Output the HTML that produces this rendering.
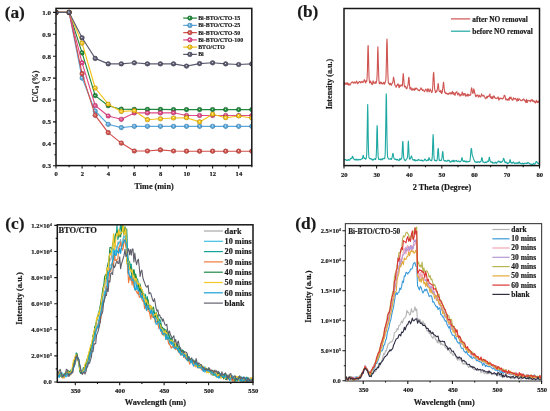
<!DOCTYPE html>
<html><head><meta charset="utf-8"><title>figure</title>
<style>
html,body{margin:0;padding:0;background:#ffffff;width:550px;height:411px;overflow:hidden}
svg{display:block;filter:blur(0.3px)}
text{font-family:"Liberation Serif",serif;font-weight:bold;fill:#1a1a1a;stroke:#1a1a1a;stroke-width:0.18px}
</style></head><body>
<svg width="550" height="411" viewBox="0 0 550 411">
<rect width="550" height="411" fill="#ffffff"/>
<defs>
<radialGradient id="g0" cx="0.5" cy="0.5" r="0.5" fx="0.42" fy="0.4"><stop offset="0" stop-color="#ffffff"/><stop offset="0.4" stop-color="#1f8a3c"/><stop offset="0.8" stop-color="#1f8a3c"/><stop offset="1" stop-color="#0f5a24"/></radialGradient>
<radialGradient id="g1" cx="0.5" cy="0.5" r="0.5" fx="0.42" fy="0.4"><stop offset="0" stop-color="#ffffff"/><stop offset="0.4" stop-color="#5aa7dc"/><stop offset="0.8" stop-color="#5aa7dc"/><stop offset="1" stop-color="#2f6f9c"/></radialGradient>
<radialGradient id="g2" cx="0.5" cy="0.5" r="0.5" fx="0.42" fy="0.4"><stop offset="0" stop-color="#ffffff"/><stop offset="0.4" stop-color="#d2504a"/><stop offset="0.8" stop-color="#d2504a"/><stop offset="1" stop-color="#8e2a26"/></radialGradient>
<radialGradient id="g3" cx="0.5" cy="0.5" r="0.5" fx="0.42" fy="0.4"><stop offset="0" stop-color="#ffffff"/><stop offset="0.4" stop-color="#e04a86"/><stop offset="0.8" stop-color="#e04a86"/><stop offset="1" stop-color="#9a2456"/></radialGradient>
<radialGradient id="g4" cx="0.5" cy="0.5" r="0.5" fx="0.42" fy="0.4"><stop offset="0" stop-color="#ffffff"/><stop offset="0.4" stop-color="#f4c21a"/><stop offset="0.8" stop-color="#f4c21a"/><stop offset="1" stop-color="#a07d00"/></radialGradient>
<radialGradient id="g5" cx="0.5" cy="0.5" r="0.5" fx="0.42" fy="0.4"><stop offset="0" stop-color="#ffffff"/><stop offset="0.4" stop-color="#5c5c70"/><stop offset="0.8" stop-color="#5c5c70"/><stop offset="1" stop-color="#2a2a3c"/></radialGradient>
<clipPath id="clipA"><rect x="56" y="8.4" width="195.8" height="157.2"/></clipPath>
</defs>
<g clip-path="url(#clipA)">
<path d="M56 12.4L69.1 12.4L82.1 52.9L95.2 95.6L108.2 105.7L121.3 109.2L134.3 109.4L147.4 109.4L160.4 109.4L173.5 109.6L186.5 109.6L199.6 109.6L212.6 109.6L225.7 109.6L238.7 109.6L251.8 109.6" stroke="#1f8a3c" stroke-width="1.15" fill="none" stroke-linejoin="round"/>
<circle cx="56" cy="12.4" r="2.35" fill="url(#g0)" stroke="#0f5a24" stroke-width="0.3"/>
<circle cx="69.1" cy="12.4" r="2.35" fill="url(#g0)" stroke="#0f5a24" stroke-width="0.3"/>
<circle cx="82.1" cy="52.9" r="2.35" fill="url(#g0)" stroke="#0f5a24" stroke-width="0.3"/>
<circle cx="95.2" cy="95.6" r="2.35" fill="url(#g0)" stroke="#0f5a24" stroke-width="0.3"/>
<circle cx="108.2" cy="105.7" r="2.35" fill="url(#g0)" stroke="#0f5a24" stroke-width="0.3"/>
<circle cx="121.3" cy="109.2" r="2.35" fill="url(#g0)" stroke="#0f5a24" stroke-width="0.3"/>
<circle cx="134.3" cy="109.4" r="2.35" fill="url(#g0)" stroke="#0f5a24" stroke-width="0.3"/>
<circle cx="147.4" cy="109.4" r="2.35" fill="url(#g0)" stroke="#0f5a24" stroke-width="0.3"/>
<circle cx="160.4" cy="109.4" r="2.35" fill="url(#g0)" stroke="#0f5a24" stroke-width="0.3"/>
<circle cx="173.5" cy="109.6" r="2.35" fill="url(#g0)" stroke="#0f5a24" stroke-width="0.3"/>
<circle cx="186.5" cy="109.6" r="2.35" fill="url(#g0)" stroke="#0f5a24" stroke-width="0.3"/>
<circle cx="199.6" cy="109.6" r="2.35" fill="url(#g0)" stroke="#0f5a24" stroke-width="0.3"/>
<circle cx="212.6" cy="109.6" r="2.35" fill="url(#g0)" stroke="#0f5a24" stroke-width="0.3"/>
<circle cx="225.7" cy="109.6" r="2.35" fill="url(#g0)" stroke="#0f5a24" stroke-width="0.3"/>
<circle cx="238.7" cy="109.6" r="2.35" fill="url(#g0)" stroke="#0f5a24" stroke-width="0.3"/>
<circle cx="251.8" cy="109.6" r="2.35" fill="url(#g0)" stroke="#0f5a24" stroke-width="0.3"/>
<path d="M56 12.4L69.1 12.4L82.1 78.1L95.2 111L108.2 124.3L121.3 127.6L134.3 126.3L147.4 126.3L160.4 126.3L173.5 126.3L186.5 126.3L199.6 126.3L212.6 126.3L225.7 126.3L238.7 126.3L251.8 126.3" stroke="#5aa7dc" stroke-width="1.15" fill="none" stroke-linejoin="round"/>
<circle cx="56" cy="12.4" r="2.35" fill="url(#g1)" stroke="#2f6f9c" stroke-width="0.3"/>
<circle cx="69.1" cy="12.4" r="2.35" fill="url(#g1)" stroke="#2f6f9c" stroke-width="0.3"/>
<circle cx="82.1" cy="78.1" r="2.35" fill="url(#g1)" stroke="#2f6f9c" stroke-width="0.3"/>
<circle cx="95.2" cy="111" r="2.35" fill="url(#g1)" stroke="#2f6f9c" stroke-width="0.3"/>
<circle cx="108.2" cy="124.3" r="2.35" fill="url(#g1)" stroke="#2f6f9c" stroke-width="0.3"/>
<circle cx="121.3" cy="127.6" r="2.35" fill="url(#g1)" stroke="#2f6f9c" stroke-width="0.3"/>
<circle cx="134.3" cy="126.3" r="2.35" fill="url(#g1)" stroke="#2f6f9c" stroke-width="0.3"/>
<circle cx="147.4" cy="126.3" r="2.35" fill="url(#g1)" stroke="#2f6f9c" stroke-width="0.3"/>
<circle cx="160.4" cy="126.3" r="2.35" fill="url(#g1)" stroke="#2f6f9c" stroke-width="0.3"/>
<circle cx="173.5" cy="126.3" r="2.35" fill="url(#g1)" stroke="#2f6f9c" stroke-width="0.3"/>
<circle cx="186.5" cy="126.3" r="2.35" fill="url(#g1)" stroke="#2f6f9c" stroke-width="0.3"/>
<circle cx="199.6" cy="126.3" r="2.35" fill="url(#g1)" stroke="#2f6f9c" stroke-width="0.3"/>
<circle cx="212.6" cy="126.3" r="2.35" fill="url(#g1)" stroke="#2f6f9c" stroke-width="0.3"/>
<circle cx="225.7" cy="126.3" r="2.35" fill="url(#g1)" stroke="#2f6f9c" stroke-width="0.3"/>
<circle cx="238.7" cy="126.3" r="2.35" fill="url(#g1)" stroke="#2f6f9c" stroke-width="0.3"/>
<circle cx="251.8" cy="126.3" r="2.35" fill="url(#g1)" stroke="#2f6f9c" stroke-width="0.3"/>
<path d="M56 12.4L69.1 12.4L82.1 73.7L95.2 115.3L108.2 132.6L121.3 143.1L134.3 151L147.4 151L160.4 149.9L173.5 151L186.5 151.2L199.6 151.2L212.6 151.2L225.7 151.2L238.7 151.2L251.8 151.2" stroke="#d2504a" stroke-width="1.15" fill="none" stroke-linejoin="round"/>
<circle cx="56" cy="12.4" r="2.35" fill="url(#g2)" stroke="#8e2a26" stroke-width="0.3"/>
<circle cx="69.1" cy="12.4" r="2.35" fill="url(#g2)" stroke="#8e2a26" stroke-width="0.3"/>
<circle cx="82.1" cy="73.7" r="2.35" fill="url(#g2)" stroke="#8e2a26" stroke-width="0.3"/>
<circle cx="95.2" cy="115.3" r="2.35" fill="url(#g2)" stroke="#8e2a26" stroke-width="0.3"/>
<circle cx="108.2" cy="132.6" r="2.35" fill="url(#g2)" stroke="#8e2a26" stroke-width="0.3"/>
<circle cx="121.3" cy="143.1" r="2.35" fill="url(#g2)" stroke="#8e2a26" stroke-width="0.3"/>
<circle cx="134.3" cy="151" r="2.35" fill="url(#g2)" stroke="#8e2a26" stroke-width="0.3"/>
<circle cx="147.4" cy="151" r="2.35" fill="url(#g2)" stroke="#8e2a26" stroke-width="0.3"/>
<circle cx="160.4" cy="149.9" r="2.35" fill="url(#g2)" stroke="#8e2a26" stroke-width="0.3"/>
<circle cx="173.5" cy="151" r="2.35" fill="url(#g2)" stroke="#8e2a26" stroke-width="0.3"/>
<circle cx="186.5" cy="151.2" r="2.35" fill="url(#g2)" stroke="#8e2a26" stroke-width="0.3"/>
<circle cx="199.6" cy="151.2" r="2.35" fill="url(#g2)" stroke="#8e2a26" stroke-width="0.3"/>
<circle cx="212.6" cy="151.2" r="2.35" fill="url(#g2)" stroke="#8e2a26" stroke-width="0.3"/>
<circle cx="225.7" cy="151.2" r="2.35" fill="url(#g2)" stroke="#8e2a26" stroke-width="0.3"/>
<circle cx="238.7" cy="151.2" r="2.35" fill="url(#g2)" stroke="#8e2a26" stroke-width="0.3"/>
<circle cx="251.8" cy="151.2" r="2.35" fill="url(#g2)" stroke="#8e2a26" stroke-width="0.3"/>
<path d="M56 12.4L69.1 12.4L82.1 62.8L95.2 105.5L108.2 116L121.3 119.3L134.3 112.9L147.4 112.9L160.4 112.9L173.5 112.7L186.5 115.5L199.6 115.5L212.6 115.5L225.7 115.5L238.7 115.5L251.8 115.5" stroke="#e04a86" stroke-width="1.15" fill="none" stroke-linejoin="round"/>
<circle cx="56" cy="12.4" r="2.35" fill="url(#g3)" stroke="#9a2456" stroke-width="0.3"/>
<circle cx="69.1" cy="12.4" r="2.35" fill="url(#g3)" stroke="#9a2456" stroke-width="0.3"/>
<circle cx="82.1" cy="62.8" r="2.35" fill="url(#g3)" stroke="#9a2456" stroke-width="0.3"/>
<circle cx="95.2" cy="105.5" r="2.35" fill="url(#g3)" stroke="#9a2456" stroke-width="0.3"/>
<circle cx="108.2" cy="116" r="2.35" fill="url(#g3)" stroke="#9a2456" stroke-width="0.3"/>
<circle cx="121.3" cy="119.3" r="2.35" fill="url(#g3)" stroke="#9a2456" stroke-width="0.3"/>
<circle cx="134.3" cy="112.9" r="2.35" fill="url(#g3)" stroke="#9a2456" stroke-width="0.3"/>
<circle cx="147.4" cy="112.9" r="2.35" fill="url(#g3)" stroke="#9a2456" stroke-width="0.3"/>
<circle cx="160.4" cy="112.9" r="2.35" fill="url(#g3)" stroke="#9a2456" stroke-width="0.3"/>
<circle cx="173.5" cy="112.7" r="2.35" fill="url(#g3)" stroke="#9a2456" stroke-width="0.3"/>
<circle cx="186.5" cy="115.5" r="2.35" fill="url(#g3)" stroke="#9a2456" stroke-width="0.3"/>
<circle cx="199.6" cy="115.5" r="2.35" fill="url(#g3)" stroke="#9a2456" stroke-width="0.3"/>
<circle cx="212.6" cy="115.5" r="2.35" fill="url(#g3)" stroke="#9a2456" stroke-width="0.3"/>
<circle cx="225.7" cy="115.5" r="2.35" fill="url(#g3)" stroke="#9a2456" stroke-width="0.3"/>
<circle cx="238.7" cy="115.5" r="2.35" fill="url(#g3)" stroke="#9a2456" stroke-width="0.3"/>
<circle cx="251.8" cy="115.5" r="2.35" fill="url(#g3)" stroke="#9a2456" stroke-width="0.3"/>
<path d="M56 12.4L69.1 12.4L82.1 43.1L95.2 88L108.2 104.2L121.3 111.4L134.3 110.7L147.4 119.7L160.4 118.8L173.5 118L186.5 117.7L199.6 121.9L212.6 114.2L225.7 117.7L238.7 116L251.8 118" stroke="#f4c21a" stroke-width="1.15" fill="none" stroke-linejoin="round"/>
<circle cx="56" cy="12.4" r="2.35" fill="url(#g4)" stroke="#a07d00" stroke-width="0.3"/>
<circle cx="69.1" cy="12.4" r="2.35" fill="url(#g4)" stroke="#a07d00" stroke-width="0.3"/>
<circle cx="82.1" cy="43.1" r="2.35" fill="url(#g4)" stroke="#a07d00" stroke-width="0.3"/>
<circle cx="95.2" cy="88" r="2.35" fill="url(#g4)" stroke="#a07d00" stroke-width="0.3"/>
<circle cx="108.2" cy="104.2" r="2.35" fill="url(#g4)" stroke="#a07d00" stroke-width="0.3"/>
<circle cx="121.3" cy="111.4" r="2.35" fill="url(#g4)" stroke="#a07d00" stroke-width="0.3"/>
<circle cx="134.3" cy="110.7" r="2.35" fill="url(#g4)" stroke="#a07d00" stroke-width="0.3"/>
<circle cx="147.4" cy="119.7" r="2.35" fill="url(#g4)" stroke="#a07d00" stroke-width="0.3"/>
<circle cx="160.4" cy="118.8" r="2.35" fill="url(#g4)" stroke="#a07d00" stroke-width="0.3"/>
<circle cx="173.5" cy="118" r="2.35" fill="url(#g4)" stroke="#a07d00" stroke-width="0.3"/>
<circle cx="186.5" cy="117.7" r="2.35" fill="url(#g4)" stroke="#a07d00" stroke-width="0.3"/>
<circle cx="199.6" cy="121.9" r="2.35" fill="url(#g4)" stroke="#a07d00" stroke-width="0.3"/>
<circle cx="212.6" cy="114.2" r="2.35" fill="url(#g4)" stroke="#a07d00" stroke-width="0.3"/>
<circle cx="225.7" cy="117.7" r="2.35" fill="url(#g4)" stroke="#a07d00" stroke-width="0.3"/>
<circle cx="238.7" cy="116" r="2.35" fill="url(#g4)" stroke="#a07d00" stroke-width="0.3"/>
<circle cx="251.8" cy="118" r="2.35" fill="url(#g4)" stroke="#a07d00" stroke-width="0.3"/>
<path d="M56 12.4L69.1 12.4L82.1 37.8L95.2 58.4L108.2 63.9L121.3 63.9L134.3 62.8L147.4 63.9L160.4 63.9L173.5 63.9L186.5 66.1L199.6 63.6L212.6 62.8L225.7 63.9L238.7 64.5L251.8 63.9" stroke="#5c5c70" stroke-width="1.15" fill="none" stroke-linejoin="round"/>
<circle cx="56" cy="12.4" r="2.35" fill="url(#g5)" stroke="#2a2a3c" stroke-width="0.3"/>
<circle cx="69.1" cy="12.4" r="2.35" fill="url(#g5)" stroke="#2a2a3c" stroke-width="0.3"/>
<circle cx="82.1" cy="37.8" r="2.35" fill="url(#g5)" stroke="#2a2a3c" stroke-width="0.3"/>
<circle cx="95.2" cy="58.4" r="2.35" fill="url(#g5)" stroke="#2a2a3c" stroke-width="0.3"/>
<circle cx="108.2" cy="63.9" r="2.35" fill="url(#g5)" stroke="#2a2a3c" stroke-width="0.3"/>
<circle cx="121.3" cy="63.9" r="2.35" fill="url(#g5)" stroke="#2a2a3c" stroke-width="0.3"/>
<circle cx="134.3" cy="62.8" r="2.35" fill="url(#g5)" stroke="#2a2a3c" stroke-width="0.3"/>
<circle cx="147.4" cy="63.9" r="2.35" fill="url(#g5)" stroke="#2a2a3c" stroke-width="0.3"/>
<circle cx="160.4" cy="63.9" r="2.35" fill="url(#g5)" stroke="#2a2a3c" stroke-width="0.3"/>
<circle cx="173.5" cy="63.9" r="2.35" fill="url(#g5)" stroke="#2a2a3c" stroke-width="0.3"/>
<circle cx="186.5" cy="66.1" r="2.35" fill="url(#g5)" stroke="#2a2a3c" stroke-width="0.3"/>
<circle cx="199.6" cy="63.6" r="2.35" fill="url(#g5)" stroke="#2a2a3c" stroke-width="0.3"/>
<circle cx="212.6" cy="62.8" r="2.35" fill="url(#g5)" stroke="#2a2a3c" stroke-width="0.3"/>
<circle cx="225.7" cy="63.9" r="2.35" fill="url(#g5)" stroke="#2a2a3c" stroke-width="0.3"/>
<circle cx="238.7" cy="64.5" r="2.35" fill="url(#g5)" stroke="#2a2a3c" stroke-width="0.3"/>
<circle cx="251.8" cy="63.9" r="2.35" fill="url(#g5)" stroke="#2a2a3c" stroke-width="0.3"/>
</g>
<rect x="56" y="8.4" width="195.8" height="157.2" fill="none" stroke="#161616" stroke-width="1.5"/>
<text x="50.9" y="168.1" font-size="7.0" text-anchor="end" >0.3</text>
<text x="50.9" y="146.2" font-size="7.0" text-anchor="end" >0.4</text>
<text x="50.9" y="124.3" font-size="7.0" text-anchor="end" >0.5</text>
<text x="50.9" y="102.4" font-size="7.0" text-anchor="end" >0.6</text>
<text x="50.9" y="80.5" font-size="7.0" text-anchor="end" >0.7</text>
<text x="50.9" y="58.6" font-size="7.0" text-anchor="end" >0.8</text>
<text x="50.9" y="36.7" font-size="7.0" text-anchor="end" >0.9</text>
<text x="50.9" y="14.8" font-size="7.0" text-anchor="end" >1.0</text>
<text x="56.2" y="176" font-size="6.6" text-anchor="middle" >0</text>
<text x="82.3" y="176" font-size="6.6" text-anchor="middle" >2</text>
<text x="108.4" y="176" font-size="6.6" text-anchor="middle" >4</text>
<text x="134.5" y="176" font-size="6.6" text-anchor="middle" >6</text>
<text x="160.6" y="176" font-size="6.6" text-anchor="middle" >8</text>
<text x="186.7" y="176" font-size="6.6" text-anchor="middle" >10</text>
<text x="212.8" y="176" font-size="6.6" text-anchor="middle" >12</text>
<text x="238.9" y="176" font-size="6.6" text-anchor="middle" >14</text>
<path d="M53 165.7H56M53 143.8H56M53 121.9H56M53 100H56M53 78.1H56M53 56.2H56M53 34.3H56M53 12.4H56M54.4 154.8H56M54.4 132.8H56M54.4 111H56M54.4 89H56M54.4 67.2H56M54.4 45.2H56M54.4 23.3H56M56 165.6V168.6M69.1 165.6V167.2M82.1 165.6V168.6M95.2 165.6V167.2M108.2 165.6V168.6M121.3 165.6V167.2M134.3 165.6V168.6M147.4 165.6V167.2M160.4 165.6V168.6M173.5 165.6V167.2M186.5 165.6V168.6M199.6 165.6V167.2M212.6 165.6V168.6M225.7 165.6V167.2M238.7 165.6V168.6M251.8 165.6V167.2" stroke="#161616" stroke-width="1.1" fill="none"/>
<text x="154.1" y="188.7" font-size="8.2" text-anchor="middle" >Time (min)</text>
<text transform="translate(37.6 86.5) rotate(-90)" font-size="8.0" text-anchor="middle" font-family="Liberation Serif, serif" font-weight="bold">C/C<tspan font-size="5.2" dy="1.6">0</tspan><tspan dy="-1.6"> (%)</tspan></text>
<path d="M183.2 18.1H196.9" stroke="#1f8a3c" stroke-width="1.25"/>
<circle cx="189.9" cy="18.1" r="2.35" fill="url(#g0)" stroke="#0f5a24" stroke-width="0.3"/>
<text x="198.2" y="20.1" font-size="5.9" text-anchor="start" >Bi-BTO/CTO-15</text>
<path d="M183.2 25.4H196.9" stroke="#5aa7dc" stroke-width="1.25"/>
<circle cx="189.9" cy="25.4" r="2.35" fill="url(#g1)" stroke="#2f6f9c" stroke-width="0.3"/>
<text x="198.2" y="27.4" font-size="5.9" text-anchor="start" >Bi-BTO/CTO-25</text>
<path d="M183.2 32.6H196.9" stroke="#d2504a" stroke-width="1.25"/>
<circle cx="189.9" cy="32.6" r="2.35" fill="url(#g2)" stroke="#8e2a26" stroke-width="0.3"/>
<text x="198.2" y="34.6" font-size="5.9" text-anchor="start" >Bi-BTO/CTO-50</text>
<path d="M183.2 39.9H196.9" stroke="#e04a86" stroke-width="1.25"/>
<circle cx="189.9" cy="39.9" r="2.35" fill="url(#g3)" stroke="#9a2456" stroke-width="0.3"/>
<text x="198.2" y="41.9" font-size="5.9" text-anchor="start" >Bi-BTO/CTO-100</text>
<path d="M183.2 47.1H196.9" stroke="#f4c21a" stroke-width="1.25"/>
<circle cx="189.9" cy="47.1" r="2.35" fill="url(#g4)" stroke="#a07d00" stroke-width="0.3"/>
<text x="198.2" y="49.1" font-size="5.9" text-anchor="start" >BTO/CTO</text>
<path d="M183.2 54.4H196.9" stroke="#5c5c70" stroke-width="1.25"/>
<circle cx="189.9" cy="54.4" r="2.35" fill="url(#g5)" stroke="#2a2a3c" stroke-width="0.3"/>
<text x="198.2" y="56.4" font-size="5.9" text-anchor="start" >Bi</text>
<text x="14.8" y="17.6" font-size="17.3" text-anchor="middle" >(a)</text>
<path d="M344 85.4L344.3 84.8L344.5 82.8L344.8 82.6L345 83L345.3 83.9L345.6 83.9L345.8 84.3L346.1 84.1L346.3 83.3L346.6 82.9L346.9 83.7L347.1 84.5L347.4 84L347.6 82.9L347.9 83L348.2 84.5L348.4 85.1L348.7 84.1L349 83.8L349.2 83.9L349.5 84.3L349.7 84.6L350 85.1L350.3 84.6L350.5 84.1L350.8 83.6L351 83.2L351.3 82.6L351.6 82.5L351.8 82.3L352.1 82.2L352.3 81.9L352.6 81.9L352.9 82L353.1 82.4L353.4 83.2L353.6 82.8L353.9 82.9L354.2 82.7L354.4 82.7L354.7 81.9L354.9 82.1L355.2 83.2L355.5 82.9L355.7 82.6L356 82.3L356.3 82L356.5 81.1L356.8 81.3L357 82.6L357.3 83.6L357.6 83.6L357.8 83.3L358.1 82.8L358.3 83.1L358.6 82.6L358.9 82.1L359.1 81.8L359.4 81.5L359.6 81.9L359.9 81.7L360.2 82L360.4 82.5L360.7 82.8L360.9 82.2L361.2 82L361.5 82.2L361.7 81.8L362 81.3L362.2 82L362.5 82.3L362.8 81.9L363 82L363.3 82.1L363.5 82.1L363.8 81.2L364.1 80.5L364.3 79.6L364.6 80.4L364.9 80.5L365.1 81.5L365.4 82.5L365.6 83L365.9 81.8L366.2 80.7L366.4 81.5L366.7 81.3L366.9 80.1L367.2 76.2L367.5 68.4L367.7 56.5L368 45.8L368.2 45.6L368.5 56.1L368.8 69.5L369 77.1L369.3 80.5L369.5 81.8L369.8 83.1L370.1 82.8L370.3 81.9L370.6 81L370.8 81.6L371.1 82.6L371.4 82.8L371.6 83.3L371.9 84.5L372.2 84.6L372.4 84.4L372.7 82.8L372.9 81.3L373.2 80.9L373.5 82.1L373.7 83.1L374 83.1L374.2 83.2L374.5 83.1L374.8 83.1L375 82.3L375.3 81.8L375.5 82.1L375.8 83.5L376.1 83.1L376.3 82.4L376.6 80.9L376.8 79.5L377.1 75.2L377.4 65.8L377.6 53.4L377.9 46.7L378.1 52.9L378.4 64.9L378.7 74.5L378.9 80.1L379.2 83.1L379.5 83.7L379.7 82.9L380 82.6L380.2 82L380.5 82.6L380.8 83.2L381 83.9L381.3 83L381.5 82.3L381.8 82.6L382.1 83.5L382.3 83.6L382.6 83.5L382.8 84L383.1 84L383.4 83.3L383.6 82.5L383.9 82.3L384.1 82.8L384.4 83.7L384.7 84.2L384.9 83.2L385.2 82.1L385.4 81.6L385.7 80.8L386 77.8L386.2 69.6L386.5 57L386.7 44.1L387 39.1L387.3 45.8L387.5 58.9L387.8 71.4L388.1 78.7L388.3 82.4L388.6 83.4L388.8 83.6L389.1 83.1L389.4 83.7L389.6 84.4L389.9 84.8L390.1 84L390.4 83.8L390.7 83.4L390.9 84.3L391.2 84.7L391.4 85.2L391.7 84.6L392 83.9L392.2 82.8L392.5 82.4L392.7 82.8L393 81.3L393.3 78.6L393.5 77.1L393.8 77.9L394 79.3L394.3 81.1L394.6 83.3L394.8 84.5L395.1 85.6L395.4 85.9L395.6 86.1L395.9 86.3L396.1 87.4L396.4 86.6L396.7 85.2L396.9 85.2L397.2 85.6L397.4 85L397.7 84L398 84L398.2 84L398.5 84.7L398.7 86.2L399 87.6L399.3 87.6L399.5 85.9L399.8 85L400 85.1L400.3 86.2L400.6 86.3L400.8 85.6L401.1 85.4L401.3 84.9L401.6 85L401.9 85.1L402.1 86L402.4 85.9L402.6 82.1L402.9 77.2L403.2 73.6L403.4 74.6L403.7 78.3L404 82.1L404.2 85.1L404.5 86.5L404.7 87L405 86.3L405.3 86.1L405.5 86.4L405.8 87.2L406 87.7L406.3 88.5L406.6 88.7L406.8 88.7L407.1 87.9L407.3 86.9L407.6 86.2L407.9 85.3L408.1 84.1L408.4 81.1L408.6 78L408.9 77.3L409.2 79.9L409.4 83.3L409.7 86.5L409.9 88.9L410.2 89.1L410.5 88.2L410.7 87.5L411 87.8L411.3 88.6L411.5 89.4L411.8 90.1L412 90.3L412.3 89.9L412.6 89L412.8 88.3L413.1 89.1L413.3 89.3L413.6 89.5L413.9 89.7L414.1 90.4L414.4 90.3L414.6 89.4L414.9 88L415.2 88.3L415.4 89.3L415.7 89.5L415.9 88.6L416.2 88.3L416.5 88.1L416.7 88.3L417 88.4L417.2 89L417.5 89.3L417.8 89.8L418 90.1L418.3 90.1L418.6 90.2L418.8 89.9L419.1 90.5L419.3 90.6L419.6 90.9L419.9 89.8L420.1 89.7L420.4 89.2L420.6 89.2L420.9 87.7L421.2 88.3L421.4 89L421.7 89.5L421.9 89.1L422.2 89.9L422.5 90.6L422.7 90.5L423 89.8L423.2 89.9L423.5 90L423.8 90.6L424 90.7L424.3 91.7L424.5 91.6L424.8 91.1L425.1 90.5L425.3 89.8L425.6 89.4L425.8 89.2L426.1 89.5L426.4 89.8L426.6 90.2L426.9 91.2L427.2 91.9L427.4 90.9L427.7 89.4L427.9 88.5L428.2 89.4L428.5 89.9L428.7 91L429 91.3L429.2 91.8L429.5 91.5L429.8 90.2L430 89L430.3 89L430.5 90L430.8 90.2L431.1 91.2L431.3 91.7L431.6 92.5L431.8 91.7L432.1 92.1L432.4 90.6L432.6 88.7L432.9 83.7L433.1 78.4L433.4 73.7L433.7 72.4L433.9 75.1L434.2 80.7L434.5 86.6L434.7 89.1L435 90.5L435.2 91.4L435.5 92.6L435.8 92.5L436 91.9L436.3 90.9L436.5 91.5L436.8 91.5L437.1 90.6L437.3 89.2L437.6 88.2L437.8 86.1L438.1 83.5L438.4 84.3L438.6 86.8L438.9 89.8L439.1 90.7L439.4 91.5L439.7 91.4L439.9 91.2L440.2 92.1L440.4 92.2L440.7 90.9L441 90.4L441.2 91.6L441.5 93L441.7 93.5L442 93L442.3 91.8L442.5 90L442.8 88.3L443.1 85.6L443.3 83L443.6 82.3L443.8 84.6L444.1 87.5L444.4 90.5L444.6 91.9L444.9 92.6L445.1 91.9L445.4 92.8L445.7 93.5L445.9 93.6L446.2 93.1L446.4 93.1L446.7 93.5L447 94L447.2 94L447.5 93.8L447.7 93.6L448 94.2L448.3 94.4L448.5 94.2L448.8 93.3L449 93.1L449.3 92.8L449.6 93.2L449.8 93.4L450.1 94.1L450.4 93.6L450.6 93.1L450.9 92.5L451.1 93.2L451.4 93.8L451.7 94L451.9 92.7L452.2 92.6L452.4 91.4L452.7 92.3L453 93L453.2 94.4L453.5 93.2L453.7 92.6L454 93L454.3 93.8L454.5 94.4L454.8 94.8L455 95.4L455.3 94.3L455.6 92.9L455.8 92.3L456.1 92.7L456.3 92.3L456.6 91.7L456.9 91.8L457.1 92.7L457.4 93.9L457.7 94.3L457.9 95.1L458.2 94.4L458.4 93.4L458.7 93L459 94L459.2 94.1L459.5 94.2L459.7 95.1L460 96.2L460.3 95.8L460.5 95L460.8 94.6L461 94.8L461.3 95.1L461.6 94.5L461.8 93.9L462.1 92L462.3 92.1L462.6 93.5L462.9 95.2L463.1 95.6L463.4 94.6L463.6 94.2L463.9 93.3L464.2 94.1L464.4 94.8L464.7 94.9L464.9 94.1L465.2 93.7L465.5 95.5L465.7 96.3L466 96.3L466.3 95.4L466.5 95.6L466.8 95.5L467 94.7L467.3 94.1L467.6 95L467.8 96.1L468.1 96.1L468.3 94.6L468.6 94.4L468.9 94.7L469.1 95.1L469.4 95.4L469.6 95.3L469.9 95.2L470.2 95.1L470.4 95.1L470.7 94.6L470.9 92.7L471.2 90.2L471.5 88.2L471.7 87.8L472 89.2L472.2 91L472.5 92.5L472.8 93.2L473 93.5L473.3 92.1L473.6 90.3L473.8 88.9L474.1 89.6L474.3 90.6L474.6 92.5L474.9 93.2L475.1 94.3L475.4 95.2L475.6 96.2L475.9 96.7L476.2 95.6L476.4 95.3L476.7 95.2L476.9 96.1L477.2 95.4L477.5 95.4L477.7 94.8L478 95.5L478.2 95.8L478.5 97.2L478.8 96.8L479 96L479.3 95.2L479.5 95.2L479.8 96L480.1 96.3L480.3 96.5L480.6 96.5L480.8 97.2L481.1 95.9L481.4 94.4L481.6 93.8L481.9 95L482.2 95.3L482.4 95.3L482.7 95.6L482.9 96.2L483.2 96.2L483.5 95.9L483.7 95.4L484 95.4L484.2 96.5L484.5 96.8L484.8 97.1L485 97.7L485.3 98.4L485.5 98.7L485.8 98.1L486.1 98.5L486.3 97.7L486.6 96.9L486.8 96.2L487.1 97.3L487.4 97.8L487.6 97.5L487.9 96.4L488.1 96L488.4 96L488.7 96.3L488.9 96.4L489.2 96.2L489.5 95.2L489.7 94.1L490 94.1L490.2 96.6L490.5 97.7L490.8 97.4L491 96.8L491.3 98.1L491.5 98.3L491.8 97.6L492.1 96.8L492.3 97.5L492.6 98.7L492.8 98.4L493.1 96.8L493.4 95.9L493.6 97L493.9 96.8L494.1 96.1L494.4 96.6L494.7 97.6L494.9 97.9L495.2 97.7L495.4 98.3L495.7 98.3L496 98.4L496.2 98.7L496.5 98.4L496.8 98.1L497 98.2L497.3 98.3L497.5 97.9L497.8 97.1L498.1 96.9L498.3 98L498.6 99L498.8 100.1L499.1 99.7L499.4 99.4L499.6 98.4L499.9 98.1L500.1 98.2L500.4 98.7L500.7 98.4L500.9 98.2L501.2 98.2L501.4 98.6L501.7 98.3L502 98.4L502.2 98.9L502.5 99L502.7 98.6L503 98.1L503.3 98.3L503.5 98.2L503.8 97.2L504 95.8L504.3 95.2L504.6 95.6L504.8 95.5L505.1 96.4L505.4 97.8L505.6 99.2L505.9 99.9L506.1 99.8L506.4 99.5L506.7 98.9L506.9 99.4L507.2 99.9L507.4 100.3L507.7 100.1L508 99.3L508.2 99.1L508.5 98.5L508.7 99.6L509 100.3L509.3 100L509.5 97.4L509.8 97.2L510 97.9L510.3 98.6L510.6 97.2L510.8 97.2L511.1 97.1L511.3 98.3L511.6 98.7L511.9 99.8L512.1 99.6L512.4 100.1L512.7 99.7L512.9 100.2L513.2 99L513.4 97.9L513.7 98.1L514 98.7L514.2 99.1L514.5 98.6L514.7 98.8L515 99L515.3 98.7L515.5 98.3L515.8 98.7L516 99.3L516.3 99.9L516.6 100.1L516.8 101.1L517.1 101.1L517.3 99.9L517.6 98.6L517.9 98.4L518.1 99.8L518.4 100.5L518.6 100.3L518.9 99.8L519.2 99.4L519.4 99.3L519.7 98.9L519.9 99.3L520.2 99.6L520.5 100.3L520.7 100.4L521 100.7L521.3 100.4L521.5 100.6L521.8 100.6L522 100.5L522.3 100L522.6 99.8L522.8 100.1L523.1 99.4L523.3 99.7L523.6 99L523.9 99.4L524.1 99.1L524.4 100.5L524.6 100.8L524.9 100.9L525.2 100.6L525.4 101L525.7 102.2L525.9 102.6L526.2 101L526.5 99.4L526.7 99.7L527 102.2L527.2 102.6L527.5 101.6L527.8 100.5L528 101.1L528.3 100.7L528.6 100.6L528.8 100.3L529.1 100.4L529.3 100.8L529.6 101L529.9 100.6L530.1 101L530.4 101.8L530.6 101.2L530.9 100.1L531.2 100.7L531.4 100.7L531.7 100.3L531.9 99.5L532.2 99.6L532.5 100.5L532.7 101.5L533 101.6L533.2 101.2L533.5 101.1L533.8 100.6L534 100.9L534.3 102L534.5 102.1L534.8 101.7L535.1 102.2L535.3 103L535.6 102.8L535.9 101.6L536.1 101.1L536.4 100.2L536.6 101L536.9 101.5L537.2 102.7L537.4 102.1L537.7 102.3L537.9 101.3L538.2 101.1L538.5 101.2L538.7 102.2L539 102.4L539.2 101.3L539.5 101" stroke="#cf5552" stroke-width="1.1" fill="none" stroke-linejoin="round"/>
<path d="M344 160L344.3 159.9L344.5 159.5L344.8 159.7L345 159.5L345.3 159.7L345.6 159.6L345.8 159.7L346.1 160.3L346.3 160.4L346.6 160.4L346.9 160.1L347.1 160L347.4 160L347.6 160L347.9 160.3L348.2 159.9L348.4 159.6L348.7 159.6L349 160L349.2 160.2L349.5 160.1L349.7 160.1L350 159.8L350.3 159.1L350.5 158.5L350.8 158.4L351 158.4L351.3 158.4L351.6 158.6L351.8 158.5L352.1 157.8L352.3 156.8L352.6 156.3L352.9 156.7L353.1 157.6L353.4 158.3L353.6 158.9L353.9 159.2L354.2 159.3L354.4 159.3L354.7 159.7L354.9 160L355.2 159.9L355.5 159.4L355.7 159.3L356 159.9L356.3 159.5L356.5 159.3L356.8 159.1L357 159.9L357.3 159.6L357.6 159.8L357.8 160.1L358.1 160.2L358.3 159.7L358.6 159.4L358.9 159.3L359.1 159.3L359.4 159.6L359.6 159.8L359.9 159.7L360.2 159.6L360.4 159.7L360.7 159.7L360.9 159.2L361.2 159.2L361.5 159.1L361.7 159L362 158.7L362.2 158.8L362.5 158.5L362.8 156.9L363 155.4L363.3 155.3L363.5 156.6L363.8 157.6L364.1 158.2L364.3 158.6L364.6 158.5L364.9 158.2L365.1 158.3L365.4 158.6L365.6 159.3L365.9 159.1L366.2 158.1L366.4 157L366.7 154.7L366.9 147.4L367.2 131.6L367.5 112.3L367.7 104.5L368 116.7L368.2 136.5L368.5 150.1L368.8 156.1L369 157.7L369.3 158.2L369.5 158.4L369.8 158.6L370.1 158.4L370.3 158.5L370.6 158.9L370.8 159.1L371.1 159L371.4 158.8L371.6 158.7L371.9 159.5L372.2 159.8L372.4 160.1L372.7 159.5L372.9 159.7L373.2 159.8L373.5 160L373.7 159.5L374 158.9L374.2 158.9L374.5 158.9L374.8 158.7L375 158.8L375.3 159.5L375.5 159.6L375.8 158.9L376.1 157.4L376.3 154.2L376.6 146.4L376.8 134.3L377.1 125.6L377.4 128.9L377.6 140.4L377.9 150.5L378.1 155.8L378.4 158.4L378.7 159.3L378.9 159.4L379.2 159.5L379.5 159.5L379.7 159.2L380 159L380.2 159.6L380.5 159.9L380.8 159.1L381 158.8L381.3 159.1L381.5 159.7L381.8 159.6L382.1 159.8L382.3 159.8L382.6 159.4L382.8 158.6L383.1 158.5L383.4 158.6L383.6 158.7L383.9 158.4L384.1 158.4L384.4 158.6L384.7 158.6L384.9 157.2L385.2 154L385.4 145.7L385.7 129.1L386 107.8L386.2 93.9L386.5 98.9L386.7 118.3L387 138.7L387.3 151L387.5 155.8L387.8 157.6L388.1 158L388.3 158.4L388.6 158.6L388.8 159.2L389.1 159.3L389.4 159.1L389.6 159L389.9 159.1L390.1 159L390.4 158.7L390.7 158.6L390.9 158.9L391.2 159.4L391.4 159.5L391.7 158.9L392 157.9L392.2 156.6L392.5 155.2L392.7 153.6L393 153.4L393.3 154.7L393.5 156.4L393.8 157.4L394 158.2L394.3 158.9L394.6 159.2L394.8 159.3L395.1 159.5L395.4 159.4L395.6 159.1L395.9 159.1L396.1 159.4L396.4 159.8L396.7 159.6L396.9 159.9L397.2 159.6L397.4 159.4L397.7 159.3L398 160L398.2 160.2L398.5 160.2L398.7 160.3L399 160.7L399.3 160.2L399.5 159.4L399.8 158.7L400 158.6L400.3 159.2L400.6 159.6L400.8 159.5L401.1 159.3L401.3 159L401.6 158.6L401.9 157.2L402.1 154L402.4 147.8L402.6 141.9L402.9 141.5L403.2 146.9L403.4 153.4L403.7 157.1L404 158.8L404.2 159.4L404.5 159.9L404.7 160.1L405 160.4L405.3 160.7L405.5 160.7L405.8 160.1L406 159.6L406.3 159.3L406.6 159.2L406.8 158.6L407.1 158.3L407.3 158L407.6 155.7L407.9 150.3L408.1 143.7L408.4 141.1L408.6 144.7L408.9 151.7L409.2 156.7L409.4 158.8L409.7 159.1L409.9 159.1L410.2 158.8L410.5 158.4L410.7 157.7L411 157L411.3 156L411.5 155.9L411.8 156.6L412 157.8L412.3 158.7L412.6 159.4L412.8 159.9L413.1 160.1L413.3 160.2L413.6 159.9L413.9 159.5L414.1 159.9L414.4 160.4L414.6 159.9L414.9 159.5L415.2 160L415.4 160.9L415.7 160.8L415.9 160.5L416.2 160.4L416.5 160.4L416.7 160.2L417 160.4L417.2 160.5L417.5 160.7L417.8 160.1L418 159.8L418.3 159.4L418.6 159.8L418.8 160L419.1 160L419.3 159.8L419.6 159.9L419.9 160.3L420.1 160.5L420.4 160.5L420.6 160.4L420.9 160.3L421.2 160.2L421.4 160.6L421.7 160.2L421.9 160L422.2 160.4L422.5 161L422.7 160.8L423 160.7L423.2 160.9L423.5 160.7L423.8 160.7L424 160.6L424.3 160.2L424.5 159.6L424.8 159L425.1 159L425.3 159.4L425.6 160L425.8 160.1L426.1 160.4L426.4 160.7L426.6 160.9L426.9 160.4L427.2 160.1L427.4 159.8L427.7 160L427.9 160.2L428.2 160.5L428.5 159.8L428.7 158.5L429 157.6L429.2 157.9L429.5 158.9L429.8 159.7L430 160L430.3 160.1L430.5 160.3L430.8 160.5L431.1 160.4L431.3 160.6L431.6 160.6L431.8 160.3L432.1 158.7L432.4 154.7L432.6 147.3L432.9 138.6L433.1 134.5L433.4 138.8L433.7 148L433.9 155.3L434.2 158.9L434.5 159.9L434.7 160.6L435 160.6L435.2 160.2L435.5 160.2L435.8 160.7L436 161L436.3 160.6L436.5 160.6L436.8 160.6L437.1 160.1L437.3 158.2L437.6 154.9L437.8 150.9L438.1 148.2L438.4 149.1L438.6 152.7L438.9 157L439.1 159.7L439.4 160.5L439.7 160.2L439.9 160.1L440.2 160.3L440.4 160.6L440.7 160.5L441 160.5L441.2 160.4L441.5 160.1L441.7 159.1L442 157.4L442.3 154.6L442.5 152L442.8 151.5L443.1 153.7L443.3 157L443.6 159.2L443.8 160.5L444.1 160.5L444.4 160.7L444.6 160.8L444.9 161.3L445.1 161.2L445.4 161L445.7 160.6L445.9 160.7L446.2 160.8L446.4 161L446.7 161.2L447 161.3L447.2 161.3L447.5 160.7L447.7 160.3L448 160.1L448.3 160.4L448.5 160.7L448.8 160.7L449 160.5L449.3 160.3L449.6 160.9L449.8 161.7L450.1 162.2L450.4 161.8L450.6 161.9L450.9 161.9L451.1 161.9L451.4 161.3L451.7 160.9L451.9 160.9L452.2 161.2L452.4 161.5L452.7 161L453 160.5L453.2 160.2L453.5 160.8L453.7 161.7L454 161.9L454.3 161.5L454.5 160.8L454.8 160.6L455 160.8L455.3 161L455.6 161L455.8 161L456.1 160.9L456.3 160.4L456.6 160.5L456.9 161.1L457.1 161.6L457.4 161.5L457.7 161.5L457.9 161.6L458.2 161.3L458.4 161.2L458.7 160.9L459 161.1L459.2 161.3L459.5 161.6L459.7 161.9L460 161.9L460.3 161.7L460.5 161.3L460.8 161.3L461 161.2L461.3 160.3L461.6 158.9L461.8 157.9L462.1 157.7L462.3 158.8L462.6 160L462.9 161L463.1 161.1L463.4 161.5L463.6 161.3L463.9 161L464.2 160.7L464.4 161.4L464.7 161.5L464.9 161.5L465.2 161.7L465.5 161.9L465.7 161.1L466 160.9L466.3 161.3L466.5 161.8L466.8 161.8L467 162.1L467.3 162L467.6 161.7L467.8 161.4L468.1 161.5L468.3 161.6L468.6 161.8L468.9 161.6L469.1 161.5L469.4 161.4L469.6 161.4L469.9 160.8L470.2 159L470.4 156.7L470.7 153.5L470.9 150.8L471.2 148.5L471.5 148.6L471.7 150.1L472 153L472.2 155L472.5 156.1L472.8 156.3L473 157.2L473.3 158.1L473.6 158.9L473.8 159.4L474.1 160L474.3 160.4L474.6 161.3L474.9 161.9L475.1 162L475.4 161.8L475.6 161.9L475.9 162.3L476.2 162.4L476.4 162.1L476.7 161.8L476.9 162L477.2 162.4L477.5 162.3L477.7 161.9L478 161.6L478.2 161.7L478.5 162.1L478.8 162.2L479 162L479.3 162.3L479.5 162.4L479.8 162.2L480.1 161.6L480.3 161.7L480.6 161.8L480.8 161.8L481.1 160.9L481.4 159.5L481.6 158L481.9 157.7L482.2 158.2L482.4 159.8L482.7 161L482.9 162.1L483.2 162.1L483.5 162.2L483.7 162.1L484 162.4L484.2 162.4L484.5 162.6L484.8 162.8L485 162.5L485.3 161.9L485.5 162.2L485.8 162.4L486.1 162.7L486.3 162.6L486.6 162.2L486.8 161.9L487.1 162L487.4 161.5L487.6 161.1L487.9 161.2L488.1 161.7L488.4 161.3L488.7 160.7L488.9 159.1L489.2 157.4L489.5 157.4L489.7 158.9L490 160.6L490.2 161.2L490.5 161.5L490.8 161.8L491 162.2L491.3 162.4L491.5 162.2L491.8 161.9L492.1 161.9L492.3 162.2L492.6 162.8L492.8 163.1L493.1 163.1L493.4 162.7L493.6 162.7L493.9 163L494.1 162.9L494.4 162.9L494.7 163L494.9 163L495.2 162.3L495.4 162.1L495.7 162.4L496 162.8L496.2 163.1L496.5 163.3L496.8 163L497 162.5L497.3 162.2L497.5 162.1L497.8 161.7L498.1 161.4L498.3 161.1L498.6 161.1L498.8 161.4L499.1 162L499.4 162.1L499.6 162L499.9 161.3L500.1 161.5L500.4 161.9L500.7 162.6L500.9 162.6L501.2 162.4L501.4 162.3L501.7 162L502 161.8L502.2 161.4L502.5 161.4L502.7 161.2L503 160.5L503.3 158.9L503.5 158.3L503.8 158.5L504 159.1L504.3 160L504.6 161.1L504.8 162.2L505.1 162.7L505.4 162.5L505.6 162.2L505.9 161.9L506.1 162.2L506.4 162.5L506.7 162.6L506.9 162.9L507.2 163.6L507.4 163.7L507.7 163.3L508 162.9L508.2 163.1L508.5 163.2L508.7 163.1L509 162.7L509.3 162.4L509.5 161.8L509.8 160.4L510 159.6L510.3 160.2L510.6 161.6L510.8 162.7L511.1 163L511.3 162.6L511.6 162.6L511.9 162.8L512.1 163.1L512.4 162.5L512.7 162.8L512.9 162.5L513.2 162.4L513.4 161.9L513.7 162.1L514 162.7L514.2 163.3L514.5 163.6L514.7 163.6L515 163.5L515.3 163.2L515.5 163.2L515.8 162.8L516 163L516.3 163.1L516.6 163.5L516.8 163.6L517.1 163.2L517.3 162.8L517.6 162.8L517.9 163.2L518.1 163.4L518.4 163.1L518.6 162.6L518.9 162L519.2 161.9L519.4 162.2L519.7 162.6L519.9 163.5L520.2 163.6L520.5 163.3L520.7 163.3L521 163.5L521.3 163.5L521.5 163.5L521.8 163.9L522 163.9L522.3 163.7L522.6 163.2L522.8 163.1L523.1 163.5L523.3 164L523.6 163.7L523.9 163.5L524.1 163.7L524.4 163.7L524.6 163.5L524.9 163.1L525.2 163.2L525.4 163.2L525.7 163.2L525.9 163.4L526.2 163.4L526.5 163L526.7 163L527 163.3L527.2 163.5L527.5 162.9L527.8 162.5L528 162.4L528.3 162.6L528.6 162.8L528.8 162.8L529.1 163.5L529.3 163.5L529.6 163.5L529.9 163.6L530.1 164.2L530.4 164.3L530.6 164.2L530.9 163.9L531.2 164.2L531.4 164.3L531.7 164.5L531.9 164.5L532.2 164.6L532.5 164.3L532.7 164.1L533 164.4L533.2 164.1L533.5 163.4L533.8 163.2L534 163.6L534.3 163.9L534.5 164.2L534.8 164.3L535.1 164L535.3 163.5L535.6 163L535.9 162.3L536.1 161.5L536.4 161.5L536.6 161.7L536.9 162L537.2 162.4L537.4 162.8L537.7 163.1L537.9 163.4L538.2 163.6L538.5 163.6L538.7 163.1L539 163.1L539.2 163.2L539.5 163.5" stroke="#1ea8a2" stroke-width="1.1" fill="none" stroke-linejoin="round"/>
<rect x="344" y="8.5" width="195.5" height="157.1" fill="none" stroke="#161616" stroke-width="1.5"/>
<text x="344.2" y="176.9" font-size="6.6" text-anchor="middle" >20</text>
<text x="376.8" y="176.9" font-size="6.6" text-anchor="middle" >30</text>
<text x="409.4" y="176.9" font-size="6.6" text-anchor="middle" >40</text>
<text x="441.9" y="176.9" font-size="6.6" text-anchor="middle" >50</text>
<text x="474.5" y="176.9" font-size="6.6" text-anchor="middle" >60</text>
<text x="507.1" y="176.9" font-size="6.6" text-anchor="middle" >70</text>
<text x="539.7" y="176.9" font-size="6.6" text-anchor="middle" >80</text>
<path d="M344 165.6V168.6M360.3 165.6V167.2M376.6 165.6V168.6M392.9 165.6V167.2M409.2 165.6V168.6M425.5 165.6V167.2M441.8 165.6V168.6M458 165.6V167.2M474.3 165.6V168.6M490.6 165.6V167.2M506.9 165.6V168.6M523.2 165.6V167.2M539.5 165.6V168.6" stroke="#161616" stroke-width="1.1" fill="none"/>
<text x="442" y="189.5" font-size="8.2" text-anchor="middle" >2 Theta (Degree)</text>
<text transform="translate(331.6 84) rotate(-90)" font-size="8.1" text-anchor="middle" font-family="Liberation Serif, serif" font-weight="bold">Intensity (a.u.)</text>
<path d="M451 18.9H470.2" stroke="#cf5552" stroke-width="1.2"/>
<path d="M451 31.2H470.2" stroke="#1ea8a2" stroke-width="1.2"/>
<text x="472.3" y="22.1" font-size="7.4" text-anchor="start" >after NO removal</text>
<text x="472.3" y="34" font-size="7.4" text-anchor="start" >before NO removal</text>
<text x="307.7" y="17.3" font-size="17.3" text-anchor="middle" >(b)</text>
<clipPath id="clipC"><rect x="57.3" y="224.8" width="195.7" height="157.5"/></clipPath>
<g clip-path="url(#clipC)">
<path d="M57.5 376L58.4 375.4L59.3 372.2L60.2 374.6L61.1 373.3L61.9 374.7L62.8 376.8L63.7 375.6L64.6 377.9L65.5 375.7L66.4 372.9L67.3 374.8L68.2 376.5L69.1 372.6L69.9 375.4L70.8 370.8L71.7 371.6L72.6 372.3L73.5 368.4L74.4 361.1L75.3 360.2L76.2 357.1L77 355.9L77.9 359.9L78.8 363.8L79.7 365.9L80.6 369.5L81.5 372.4L82.4 371.5L83.3 370.4L84.2 372.4L85 367.8L85.9 365.3L86.8 367.8L87.7 362.1L88.6 357.2L89.5 357.1L90.4 352.1L91.3 350.3L92.2 347.4L93 342.3L93.9 339L94.8 335.5L95.7 328.4L96.6 326.7L97.5 325.4L98.4 321.5L99.3 318.2L100.2 314.3L101 311.5L101.9 307.6L102.8 296.3L103.7 295.3L104.6 291.1L105.5 291.4L106.4 280.3L107.3 278.7L108.2 271.2L109 269.8L109.9 258.9L110.8 260.2L111.7 254.3L112.6 259.7L113.5 254.1L114.4 252.3L115.3 244.4L116.2 246.6L117 248.9L117.9 242L118.8 242.3L119.7 242.3L120.6 239.3L121.5 247.7L122.4 245.1L123.3 238.2L124.1 230L125 230.9L125.9 230L126.8 236.4L127.7 272.8L128.6 269.1L129.5 275.1L130.4 280.4L131.3 275L132.1 273.7L133 275.4L133.9 274.3L134.8 280.5L135.7 282.8L136.6 287.5L137.5 288.6L138.4 290.8L139.3 291.6L140.1 289.3L141 293L141.9 295.7L142.8 297.3L143.7 295.3L144.6 303.7L145.5 302.1L146.4 301.4L147.3 306.6L148.1 309.4L149 307.5L149.9 307.5L150.8 307.4L151.7 312.6L152.6 313.6L153.5 315.5L154.4 318.9L155.2 316.5L156.1 316.2L157 319.7L157.9 325L158.8 322.5L159.7 327.9L160.6 329L161.5 329.6L162.4 334L163.2 333.3L164.1 334.4L165 331.7L165.9 339.1L166.8 337.1L167.7 337.1L168.6 338.3L169.5 344.8L170.4 340.5L171.2 341.4L172.1 343.1L173 343.4L173.9 346.7L174.8 347.9L175.7 347.8L176.6 345.4L177.5 350.4L178.4 350.8L179.2 352.2L180.1 352.5L181 353.5L181.9 351.8L182.8 355.2L183.7 356.3L184.6 355.1L185.5 355.2L186.4 359.5L187.2 360.2L188.1 361L189 358.8L189.9 361.1L190.8 361.1L191.7 362.7L192.6 360.4L193.5 362L194.3 364L195.2 363.8L196.1 364.2L197 366L197.9 367.8L198.8 367L199.7 367.8L200.6 367L201.5 367.8L202.3 368.6L203.2 368.6L204.1 367.1L205 369L205.9 369.9L206.8 370L207.7 369.1L208.6 372.1L209.5 371.5L210.3 372.6L211.2 375L212.1 372.3L213 371.8L213.9 374.3L214.8 374.2L215.7 373.2L216.6 371.9L217.5 375L218.3 372.4L219.2 373.3L220.1 377.9L221 376.2L221.9 375.3L222.8 376.4L223.7 374.8L224.6 376.2L225.5 376.1L226.3 377.3L227.2 379.6L228.1 377.1L229 379.2L229.9 376.5L230.8 377.5L231.7 375.2L232.6 377.6L233.4 380.8L234.3 375.6L235.2 377.7L236.1 377.1L237 376.8L237.9 380.4L238.8 380.4L239.7 377.9L240.6 380.8L241.4 382L242.3 380.3L243.2 379.8L244.1 378.7L245 380.5L245.9 380.9L246.8 379.4L247.7 379.8L248.6 379.1L249.4 382L250.3 377.5L251.2 382L252.1 378.8L253 379.1" stroke="#a8a8a8" stroke-width="1.1" fill="none" stroke-linejoin="round"/>
<path d="M57.5 377.7L58.4 375.2L59.3 375.6L60.2 374.5L61.1 373.8L61.9 372.5L62.8 375.3L63.7 376L64.6 376L65.5 374.1L66.4 376.8L67.3 373.2L68.2 372.5L69.1 375.1L69.9 371.5L70.8 369.9L71.7 372.8L72.6 369.3L73.5 368.1L74.4 366.2L75.3 358.6L76.2 358L77 357.5L77.9 359.7L78.8 359.7L79.7 367.3L80.6 372.1L81.5 372.6L82.4 374.3L83.3 372L84.2 367.8L85 372.2L85.9 365.3L86.8 367L87.7 362.8L88.6 358.1L89.5 354L90.4 356.6L91.3 348.6L92.2 348.7L93 342.9L93.9 339.9L94.8 334.8L95.7 326.9L96.6 328.8L97.5 326.4L98.4 325.8L99.3 320.6L100.2 319.4L101 311.7L101.9 308.6L102.8 303.4L103.7 300.8L104.6 293.6L105.5 289.7L106.4 287.1L107.3 284.3L108.2 272.5L109 275.2L109.9 265.5L110.8 264.9L111.7 264.7L112.6 260.8L113.5 248.5L114.4 260.4L115.3 249.6L116.2 251.5L117 247.4L117.9 245.6L118.8 242.1L119.7 242.9L120.6 241L121.5 247.6L122.4 243.3L123.3 238.1L124.1 236.8L125 235.9L125.9 243.8L126.8 246.7L127.7 272.5L128.6 270.8L129.5 267.8L130.4 270.2L131.3 273.6L132.1 279.5L133 280.8L133.9 277.2L134.8 283.4L135.7 279.2L136.6 289.4L137.5 284.8L138.4 295L139.3 294.6L140.1 293.1L141 295.5L141.9 294L142.8 298.5L143.7 299.3L144.6 301L145.5 307.7L146.4 302.1L147.3 309.5L148.1 306.6L149 309L149.9 311.2L150.8 312.5L151.7 311.6L152.6 314.3L153.5 310.6L154.4 317.8L155.2 316.5L156.1 315.4L157 318.9L157.9 322.8L158.8 327L159.7 323.3L160.6 330L161.5 326.9L162.4 332.8L163.2 330L164.1 330.1L165 334.3L165.9 335.1L166.8 339.4L167.7 333.8L168.6 340.3L169.5 342.6L170.4 342.8L171.2 341.3L172.1 344.2L173 347.6L173.9 343.8L174.8 347.2L175.7 344.4L176.6 346.7L177.5 348.8L178.4 347.6L179.2 349.1L180.1 353.3L181 353L181.9 351.4L182.8 354.1L183.7 355.1L184.6 355.1L185.5 355.5L186.4 357.9L187.2 356.3L188.1 357.2L189 356.6L189.9 361.6L190.8 361.1L191.7 361.8L192.6 362.1L193.5 362.6L194.3 361.7L195.2 363.3L196.1 365.4L197 363.5L197.9 367.2L198.8 365.7L199.7 365.4L200.6 368.4L201.5 368.9L202.3 367.2L203.2 367.6L204.1 368.6L205 366.8L205.9 368.6L206.8 370.9L207.7 369.9L208.6 371.5L209.5 371L210.3 371L211.2 371.2L212.1 370.2L213 372.7L213.9 372.5L214.8 373.6L215.7 376.1L216.6 375.1L217.5 374.2L218.3 378L219.2 374.9L220.1 374.5L221 374.2L221.9 375.2L222.8 374.4L223.7 376.3L224.6 376.9L225.5 375.7L226.3 378.4L227.2 375.4L228.1 379L229 375.6L229.9 378.4L230.8 378.4L231.7 379.5L232.6 378.3L233.4 378.1L234.3 380.7L235.2 381.2L236.1 378.7L237 381.2L237.9 378L238.8 377.4L239.7 379.8L240.6 376.5L241.4 379.6L242.3 381L243.2 376.8L244.1 379.1L245 380.6L245.9 380.1L246.8 378L247.7 377.7L248.6 380.2L249.4 381.8L250.3 381.1L251.2 379.3L252.1 380.3L253 379.9" stroke="#3cc0e4" stroke-width="1.1" fill="none" stroke-linejoin="round"/>
<path d="M57.5 375.2L58.4 374.4L59.3 373.2L60.2 373.4L61.1 376.2L61.9 377.3L62.8 374L63.7 376.1L64.6 374.8L65.5 373.7L66.4 373.2L67.3 371.4L68.2 373.2L69.1 372L69.9 372.3L70.8 371.5L71.7 371.9L72.6 368.7L73.5 364.2L74.4 361.8L75.3 357.7L76.2 352.8L77 356L77.9 358.1L78.8 361.7L79.7 369L80.6 373.2L81.5 371L82.4 371.4L83.3 371.5L84.2 370.3L85 365.9L85.9 363.8L86.8 363.1L87.7 360.9L88.6 358.6L89.5 357.5L90.4 348L91.3 343.9L92.2 345.3L93 337.5L93.9 333.2L94.8 329.1L95.7 324.2L96.6 320.8L97.5 318.1L98.4 313.4L99.3 310.5L100.2 306.1L101 306.8L101.9 299.9L102.8 293.2L103.7 288.6L104.6 284.2L105.5 278.9L106.4 278.9L107.3 267.9L108.2 267.9L109 261.2L109.9 250.4L110.8 252.1L111.7 253.5L112.6 243.5L113.5 243.1L114.4 239.9L115.3 234L116.2 235.6L117 225.3L117.9 239.6L118.8 231.8L119.7 230L120.6 225.2L121.5 233.6L122.4 222.8L123.3 229.6L124.1 233.9L125 228.9L125.9 229L126.8 229L127.7 262.9L128.6 266.9L129.5 261.2L130.4 265.5L131.3 264.2L132.1 272.3L133 275.3L133.9 269.8L134.8 274.2L135.7 275.9L136.6 280.1L137.5 278.8L138.4 283.2L139.3 287.3L140.1 284.1L141 290.4L141.9 289.4L142.8 295.7L143.7 293.3L144.6 298.4L145.5 294.4L146.4 303.1L147.3 296.6L148.1 303.1L149 309.4L149.9 305.9L150.8 307L151.7 309.4L152.6 312.2L153.5 311.8L154.4 312.4L155.2 313.6L156.1 318.5L157 316.6L157.9 315.4L158.8 322.7L159.7 319L160.6 321.1L161.5 326.1L162.4 328.6L163.2 329.9L164.1 330.7L165 329.4L165.9 332.6L166.8 335L167.7 335L168.6 334.2L169.5 335.9L170.4 339.7L171.2 338.4L172.1 343.3L173 341.1L173.9 346.3L174.8 343.7L175.7 349.5L176.6 345.6L177.5 346.2L178.4 347.4L179.2 346.5L180.1 351L181 351.2L181.9 353.9L182.8 350L183.7 351.6L184.6 354.3L185.5 354.7L186.4 356.3L187.2 354.3L188.1 357.9L189 359.6L189.9 359.3L190.8 360.1L191.7 362.1L192.6 363.1L193.5 359.9L194.3 362.6L195.2 362L196.1 361.4L197 364.1L197.9 366.4L198.8 364.7L199.7 367.3L200.6 364.8L201.5 365.8L202.3 366.6L203.2 369.3L204.1 370.9L205 368.9L205.9 368.1L206.8 369.8L207.7 371L208.6 371.8L209.5 372.2L210.3 370.7L211.2 373.5L212.1 372.9L213 372.4L213.9 372.8L214.8 374.1L215.7 374.1L216.6 373.6L217.5 373.1L218.3 376.8L219.2 372.3L220.1 374.8L221 375.5L221.9 377.5L222.8 376.9L223.7 375.2L224.6 375.7L225.5 379.4L226.3 378.2L227.2 377.4L228.1 379L229 374.9L229.9 376L230.8 378.5L231.7 380.1L232.6 377.9L233.4 379L234.3 379.1L235.2 380.3L236.1 377.9L237 378.8L237.9 377.3L238.8 377.9L239.7 379.9L240.6 379.2L241.4 380.4L242.3 379.3L243.2 381.1L244.1 378.8L245 382.4L245.9 379.6L246.8 380.2L247.7 379.1L248.6 381.6L249.4 380.2L250.3 379.5L251.2 380.6L252.1 380.2L253 380.6" stroke="#14a294" stroke-width="1.1" fill="none" stroke-linejoin="round"/>
<path d="M57.5 377.1L58.4 376.4L59.3 374L60.2 372.2L61.1 375.6L61.9 377.5L62.8 374.5L63.7 377.8L64.6 375.7L65.5 375.3L66.4 374.5L67.3 374.7L68.2 376.2L69.1 373.3L69.9 374.7L70.8 374.8L71.7 371.9L72.6 372.3L73.5 366.1L74.4 364.7L75.3 364.3L76.2 358.8L77 356.1L77.9 360L78.8 362.5L79.7 365.8L80.6 370.1L81.5 372.5L82.4 374.2L83.3 372.6L84.2 370.5L85 371L85.9 365.9L86.8 364.5L87.7 364.2L88.6 362L89.5 358.6L90.4 354.3L91.3 351L92.2 347.9L93 345.6L93.9 341L94.8 340.7L95.7 331.1L96.6 329.6L97.5 327.9L98.4 324.1L99.3 321.3L100.2 322.8L101 316.8L101.9 309L102.8 305.8L103.7 302.3L104.6 298.8L105.5 294.5L106.4 286.2L107.3 286.4L108.2 281.7L109 278.9L109.9 268.3L110.8 271.7L111.7 264.9L112.6 263.1L113.5 267.8L114.4 252.7L115.3 260.5L116.2 260.6L117 259.4L117.9 258.8L118.8 247.3L119.7 246.3L120.6 241.7L121.5 247.3L122.4 250.2L123.3 247.9L124.1 239.2L125 241.9L125.9 246.9L126.8 248.3L127.7 268.9L128.6 282.7L129.5 276.7L130.4 279.2L131.3 278.3L132.1 285.3L133 278L133.9 287.3L134.8 288.3L135.7 290.5L136.6 291.7L137.5 293.7L138.4 291.3L139.3 297.3L140.1 297.1L141 293.3L141.9 299.6L142.8 301.3L143.7 301.4L144.6 308.6L145.5 305.3L146.4 306.1L147.3 305L148.1 311.2L149 311.2L149.9 314.7L150.8 319.2L151.7 313.2L152.6 317.2L153.5 317.8L154.4 316.7L155.2 322.7L156.1 321.8L157 320.8L157.9 322.9L158.8 328.6L159.7 323.6L160.6 328.6L161.5 332.7L162.4 334.8L163.2 334.1L164.1 335.4L165 333.6L165.9 336L166.8 339.2L167.7 339.2L168.6 343.6L169.5 344.5L170.4 345.7L171.2 348.3L172.1 346.5L173 346.9L173.9 347.7L174.8 345.7L175.7 349.6L176.6 348.4L177.5 348.5L178.4 352L179.2 350.3L180.1 354L181 355.1L181.9 353.6L182.8 353.5L183.7 357.5L184.6 355.6L185.5 358.8L186.4 358.8L187.2 359L188.1 357.8L189 361.7L189.9 364.2L190.8 360.2L191.7 361.7L192.6 363.2L193.5 362.1L194.3 364.5L195.2 366.4L196.1 366.9L197 364.9L197.9 367.7L198.8 366.9L199.7 367.2L200.6 366.2L201.5 369.9L202.3 369.1L203.2 370.8L204.1 367.4L205 370.2L205.9 371.3L206.8 369.3L207.7 371.9L208.6 371.2L209.5 369.2L210.3 370.6L211.2 370L212.1 373.9L213 374.2L213.9 373.3L214.8 373.4L215.7 376.4L216.6 374.9L217.5 372.9L218.3 375.3L219.2 376.2L220.1 376.4L221 378L221.9 374.4L222.8 375.6L223.7 379.1L224.6 375.8L225.5 375.8L226.3 375.6L227.2 380L228.1 375.5L229 375.8L229.9 377.7L230.8 378.5L231.7 379.4L232.6 381.2L233.4 377.3L234.3 381.5L235.2 379L236.1 378L237 379L237.9 378L238.8 379.4L239.7 380.5L240.6 380.4L241.4 381.2L242.3 380.1L243.2 381.1L244.1 378.3L245 381.6L245.9 380.2L246.8 379.5L247.7 379.8L248.6 378.8L249.4 382.6L250.3 382.1L251.2 381.9L252.1 379.2L253 380.7" stroke="#f07a3a" stroke-width="1.1" fill="none" stroke-linejoin="round"/>
<path d="M57.5 372.7L58.4 373.5L59.3 375L60.2 376.1L61.1 375.5L61.9 375.9L62.8 377.3L63.7 374.9L64.6 373.4L65.5 373L66.4 371.9L67.3 374L68.2 370.6L69.1 372.1L69.9 371.2L70.8 372.4L71.7 371.1L72.6 368.4L73.5 363L74.4 362.8L75.3 357.1L76.2 355.8L77 353.4L77.9 358.3L78.8 362.6L79.7 371.2L80.6 373.1L81.5 371.9L82.4 372.2L83.3 367.5L84.2 368.4L85 366.6L85.9 363.4L86.8 359.9L87.7 357.7L88.6 355.1L89.5 351.5L90.4 349.9L91.3 345.6L92.2 342.9L93 334.7L93.9 334.7L94.8 326.6L95.7 325.7L96.6 321.2L97.5 316.9L98.4 315.4L99.3 312.8L100.2 306.3L101 300.5L101.9 295.4L102.8 288.5L103.7 286L104.6 277L105.5 274.6L106.4 276L107.3 267.2L108.2 262.6L109 261.4L109.9 247.5L110.8 247.6L111.7 248.3L112.6 248.9L113.5 239.5L114.4 242.9L115.3 237L116.2 233.4L117 231.6L117.9 232.4L118.8 237.4L119.7 234.2L120.6 236.9L121.5 229.5L122.4 224.6L123.3 229.6L124.1 233.4L125 226.7L125.9 230.5L126.8 261.7L127.7 254.1L128.6 264.4L129.5 269.1L130.4 266.5L131.3 269.1L132.1 277.2L133 271.5L133.9 269.7L134.8 280.6L135.7 274.1L136.6 279.6L137.5 286.1L138.4 284L139.3 290.8L140.1 285.1L141 292.2L141.9 291.7L142.8 294.5L143.7 295.3L144.6 296.8L145.5 298.9L146.4 305.3L147.3 298.5L148.1 300.3L149 309.1L149.9 305.1L150.8 308.3L151.7 309.7L152.6 308.4L153.5 307L154.4 313.2L155.2 317L156.1 312.5L157 315L157.9 321.8L158.8 323.3L159.7 323.2L160.6 323.5L161.5 328.4L162.4 327.4L163.2 328.1L164.1 328.7L165 334.2L165.9 329.5L166.8 332.2L167.7 333.2L168.6 333.9L169.5 337.7L170.4 339.5L171.2 338.8L172.1 338.8L173 342.3L173.9 343.6L174.8 344.3L175.7 346.2L176.6 347.9L177.5 344.4L178.4 351.3L179.2 350.6L180.1 347.9L181 352.9L181.9 350.5L182.8 350.3L183.7 351.8L184.6 353.4L185.5 355.4L186.4 355.2L187.2 357.8L188.1 361L189 357L189.9 359.1L190.8 361L191.7 358.9L192.6 361.5L193.5 360.7L194.3 361L195.2 362.9L196.1 364.1L197 366L197.9 366.8L198.8 366.1L199.7 366.1L200.6 366.4L201.5 367.4L202.3 367.4L203.2 368.4L204.1 368.3L205 368.9L205.9 368.9L206.8 368.8L207.7 371.3L208.6 369.3L209.5 371.7L210.3 371.7L211.2 370.5L212.1 371.3L213 375.4L213.9 374.4L214.8 372.7L215.7 375.9L216.6 376L217.5 376L218.3 372.3L219.2 376.2L220.1 375.3L221 374.7L221.9 375.3L222.8 376.6L223.7 378.4L224.6 373.8L225.5 374.9L226.3 379.6L227.2 375.1L228.1 376.3L229 377.2L229.9 376.8L230.8 377.6L231.7 375.6L232.6 377.9L233.4 377.8L234.3 377.4L235.2 381L236.1 379.2L237 379.6L237.9 380.3L238.8 376.7L239.7 378.8L240.6 380.7L241.4 379.9L242.3 378.5L243.2 379.5L244.1 380L245 377.8L245.9 379.9L246.8 377.1L247.7 380.8L248.6 379.5L249.4 380.2L250.3 379.9L251.2 379.1L252.1 378.2L253 379.5" stroke="#1e8a46" stroke-width="1.1" fill="none" stroke-linejoin="round"/>
<path d="M57.5 374.7L58.4 374.2L59.3 372L60.2 372.9L61.1 375.7L61.9 374L62.8 378.4L63.7 377.6L64.6 374.9L65.5 373L66.4 372.7L67.3 373.9L68.2 371.2L69.1 374.9L69.9 372.2L70.8 372L71.7 370L72.6 365.3L73.5 360.2L74.4 359.4L75.3 355.6L76.2 354.6L77 356.9L77.9 357.7L78.8 362.2L79.7 369.2L80.6 371.4L81.5 371.1L82.4 371L83.3 371.9L84.2 368.6L85 363.9L85.9 362.8L86.8 361.3L87.7 356.6L88.6 353.5L89.5 349.9L90.4 346.5L91.3 345L92.2 339.7L93 336.7L93.9 331.3L94.8 328.6L95.7 327.6L96.6 317.2L97.5 319L98.4 312.9L99.3 314.1L100.2 307.3L101 304.9L101.9 297L102.8 294L103.7 287L104.6 285.8L105.5 279.5L106.4 272.7L107.3 267.3L108.2 270.1L109 257.5L109.9 253.5L110.8 255.3L111.7 250.3L112.6 247.5L113.5 233.7L114.4 249.8L115.3 244.4L116.2 236L117 233.1L117.9 236.2L118.8 229.2L119.7 234.9L120.6 232.8L121.5 232.6L122.4 231.4L123.3 222.4L124.1 235L125 232.5L125.9 228.4L126.8 263.9L127.7 262.1L128.6 261.1L129.5 268.8L130.4 269.5L131.3 272.2L132.1 269.6L133 277.2L133.9 275.3L134.8 281.9L135.7 278.2L136.6 279.1L137.5 285.1L138.4 283.4L139.3 283.2L140.1 288L141 287L141.9 290L142.8 291L143.7 297L144.6 295.9L145.5 302.3L146.4 299.8L147.3 303.1L148.1 305L149 303.8L149.9 309.9L150.8 305.7L151.7 306.8L152.6 316L153.5 316L154.4 314.6L155.2 314.6L156.1 313.2L157 318.2L157.9 318.5L158.8 324.1L159.7 325.6L160.6 325L161.5 329.7L162.4 328.8L163.2 331.5L164.1 336.3L165 330.2L165.9 333.4L166.8 332.6L167.7 337.5L168.6 338.4L169.5 341.5L170.4 340.3L171.2 340.3L172.1 340.4L173 344.1L173.9 342L174.8 341L175.7 346.3L176.6 348.1L177.5 347.2L178.4 349.1L179.2 350.1L180.1 352.8L181 351.8L181.9 354.3L182.8 352.3L183.7 353.2L184.6 353.2L185.5 353.9L186.4 356.8L187.2 357.7L188.1 356.9L189 358.1L189.9 360.3L190.8 358.8L191.7 361L192.6 360.4L193.5 361.7L194.3 363.6L195.2 364.4L196.1 366.5L197 365.2L197.9 366.2L198.8 368.3L199.7 366.7L200.6 365.8L201.5 367.8L202.3 366.7L203.2 366.3L204.1 369.8L205 367.5L205.9 367.8L206.8 372.9L207.7 371.2L208.6 372.9L209.5 371.4L210.3 372.5L211.2 372.2L212.1 374.4L213 370.2L213.9 373.8L214.8 371.6L215.7 376.6L216.6 372.9L217.5 376.3L218.3 374.8L219.2 374.4L220.1 375.4L221 378.2L221.9 376.2L222.8 376L223.7 376.5L224.6 377.6L225.5 378.3L226.3 375.6L227.2 375.6L228.1 376.9L229 375.2L229.9 378.5L230.8 375.7L231.7 378.4L232.6 377.7L233.4 378.5L234.3 378.1L235.2 376L236.1 377.9L237 376.4L237.9 376.9L238.8 380.5L239.7 379.6L240.6 377.1L241.4 379.1L242.3 380.3L243.2 379.1L244.1 379.7L245 380.8L245.9 382.3L246.8 380.5L247.7 381.2L248.6 377.7L249.4 380L250.3 381L251.2 377.5L252.1 378.1L253 381.7" stroke="#f6c828" stroke-width="1.1" fill="none" stroke-linejoin="round"/>
<path d="M57.5 374.8L58.4 375.8L59.3 377.4L60.2 372.9L61.1 373.4L61.9 376.4L62.8 376.7L63.7 374.3L64.6 375.2L65.5 376.3L66.4 373.7L67.3 373.6L68.2 376L69.1 374.4L69.9 373.7L70.8 374L71.7 372.9L72.6 371.1L73.5 366.3L74.4 366.4L75.3 362.3L76.2 358.7L77 357.2L77.9 357.3L78.8 359.6L79.7 364.3L80.6 369.4L81.5 371.6L82.4 372.8L83.3 372.2L84.2 371.3L85 370.7L85.9 367.3L86.8 367.6L87.7 363.7L88.6 363.4L89.5 359.4L90.4 352.9L91.3 353.8L92.2 348.9L93 343.3L93.9 340.4L94.8 339.3L95.7 332.5L96.6 329.1L97.5 325.7L98.4 327.8L99.3 318.8L100.2 315.7L101 311.8L101.9 308.2L102.8 301.7L103.7 302.6L104.6 298.8L105.5 292.2L106.4 290L107.3 288.6L108.2 273.2L109 272.1L109.9 270.6L110.8 268.8L111.7 266.4L112.6 260.8L113.5 258.4L114.4 250.9L115.3 254.9L116.2 255.4L117 250.1L117.9 252.4L118.8 253.4L119.7 248L120.6 253.5L121.5 247.6L122.4 243.9L123.3 243.3L124.1 240.5L125 240.1L125.9 242.4L126.8 245.2L127.7 260.3L128.6 273.7L129.5 275.2L130.4 277.7L131.3 276L132.1 280.5L133 279.7L133.9 280.9L134.8 289.9L135.7 289.7L136.6 284.2L137.5 287.1L138.4 290.5L139.3 291.3L140.1 292.6L141 297.8L141.9 295.7L142.8 298.7L143.7 300.5L144.6 304.1L145.5 305.3L146.4 310.4L147.3 306.8L148.1 304.8L149 308.3L149.9 309.5L150.8 313.8L151.7 310.1L152.6 313.6L153.5 317.3L154.4 317.6L155.2 318.8L156.1 324.5L157 323.5L157.9 321.9L158.8 321.4L159.7 327.2L160.6 331.1L161.5 329.2L162.4 333.6L163.2 334.8L164.1 333.1L165 333.7L165.9 339.7L166.8 334.6L167.7 339.1L168.6 337.3L169.5 341.5L170.4 342L171.2 344.4L172.1 343L173 342.3L173.9 347.7L174.8 348.7L175.7 347L176.6 347.6L177.5 349.5L178.4 347.8L179.2 352.8L180.1 350.7L181 355.2L181.9 353.2L182.8 353.1L183.7 356.9L184.6 354.6L185.5 357.1L186.4 359.1L187.2 360.1L188.1 356.5L189 359.6L189.9 359.5L190.8 362.9L191.7 359.4L192.6 363.9L193.5 366.1L194.3 364L195.2 362.9L196.1 365L197 363.8L197.9 367.6L198.8 367.7L199.7 367.7L200.6 367L201.5 366.7L202.3 368.7L203.2 371.4L204.1 367L205 372.1L205.9 369.1L206.8 370.5L207.7 370.9L208.6 370.4L209.5 371.6L210.3 372L211.2 371.4L212.1 374L213 372.2L213.9 373.4L214.8 375.4L215.7 373.9L216.6 377.1L217.5 377.2L218.3 376.6L219.2 378L220.1 375.7L221 373.2L221.9 376.4L222.8 376.6L223.7 376.2L224.6 377.6L225.5 375.2L226.3 376L227.2 378L228.1 375.8L229 378.9L229.9 380.8L230.8 378.2L231.7 376.5L232.6 376L233.4 378L234.3 378.4L235.2 377.7L236.1 378.2L237 378.5L237.9 378.5L238.8 379.1L239.7 380.3L240.6 379.9L241.4 381L242.3 377.3L243.2 381.3L244.1 380.7L245 380.1L245.9 377.4L246.8 379.7L247.7 381.6L248.6 378L249.4 380.9L250.3 379.8L251.2 381.1L252.1 379.3L253 378.8" stroke="#1aa2d6" stroke-width="1.1" fill="none" stroke-linejoin="round"/>
<path d="M57.5 374.6L58.4 372.8L59.3 370.5L60.2 369.3L61.1 372.5L61.9 374.7L62.8 377L63.7 375.3L64.6 375L65.5 373.4L66.4 369.2L67.3 369.9L68.2 374L69.1 376.3L69.9 374L70.8 373.8L71.7 372.3L72.6 372.9L73.5 367.5L74.4 363.7L75.3 359.9L76.2 357L77 355.3L77.9 359.3L78.8 359.1L79.7 364.7L80.6 368.3L81.5 373.3L82.4 374.1L83.3 372.2L84.2 372.6L85 374.1L85.9 371.9L86.8 367.4L87.7 366.4L88.6 362.7L89.5 363.3L90.4 360.3L91.3 357.3L92.2 350.8L93 351.6L93.9 344.9L94.8 343.6L95.7 343.7L96.6 334.8L97.5 333L98.4 330.1L99.3 326.7L100.2 322L101 315.4L101.9 314L102.8 311L103.7 301.9L104.6 299L105.5 295.1L106.4 295.5L107.3 288.4L108.2 291.5L109 280.7L109.9 282L110.8 273.4L111.7 272.8L112.6 274.5L113.5 264.9L114.4 267.6L115.3 265.9L116.2 262.4L117 260.9L117.9 263.4L118.8 263.4L119.7 256.7L120.6 268.7L121.5 263.8L122.4 261L123.3 257.9L124.1 255.2L125 249.2L125.9 256.7L126.8 255.1L127.7 250.9L128.6 248.8L129.5 254.8L130.4 249.6L131.3 255.1L132.1 249.1L133 249.1L133.9 262L134.8 253L135.7 260.7L136.6 264.7L137.5 260.6L138.4 259.3L139.3 267.5L140.1 276.4L141 271.3L141.9 270.2L142.8 277.3L143.7 280.5L144.6 282.7L145.5 285.4L146.4 286.9L147.3 286.9L148.1 285.2L149 294L149.9 292.6L150.8 293.3L151.7 296.6L152.6 299.9L153.5 301.6L154.4 298.6L155.2 302.9L156.1 308.3L157 311.2L157.9 309.9L158.8 315.7L159.7 314.8L160.6 317.9L161.5 317.7L162.4 321.2L163.2 318.9L164.1 322L165 324.8L165.9 325.4L166.8 324.3L167.7 331L168.6 333.6L169.5 331L170.4 334.6L171.2 336.3L172.1 338.6L173 337L173.9 335.8L174.8 342.2L175.7 339.5L176.6 345L177.5 342.8L178.4 341L179.2 346.2L180.1 347.6L181 349.1L181.9 351.8L182.8 351.5L183.7 353L184.6 351.6L185.5 352.1L186.4 352.4L187.2 353.6L188.1 359.2L189 357.7L189.9 360L190.8 358.7L191.7 357.9L192.6 360.8L193.5 360.6L194.3 362.9L195.2 362.6L196.1 358.5L197 362.2L197.9 364.4L198.8 362.8L199.7 364L200.6 364.4L201.5 364.8L202.3 367L203.2 367.4L204.1 368.9L205 369.7L205.9 368.7L206.8 369.9L207.7 369.9L208.6 367.7L209.5 368.2L210.3 371L211.2 370.1L212.1 371.2L213 370.4L213.9 372.8L214.8 370.1L215.7 371.9L216.6 370.8L217.5 373.5L218.3 371.3L219.2 372.9L220.1 374.7L221 376L221.9 371.7L222.8 374.9L223.7 374.2L224.6 373.9L225.5 372.9L226.3 374.7L227.2 378.4L228.1 375.3L229 378.1L229.9 374L230.8 373.5L231.7 377.2L232.6 379.2L233.4 377.2L234.3 376.3L235.2 376L236.1 379.3L237 379L237.9 379.4L238.8 377.1L239.7 375.8L240.6 379.2L241.4 377.1L242.3 378.5L243.2 378.6L244.1 377.1L245 378.6L245.9 380.3L246.8 381.8L247.7 377.7L248.6 379.9L249.4 379.4L250.3 381L251.2 379.9L252.1 380.7L253 378.4" stroke="#60606c" stroke-width="1.1" fill="none" stroke-linejoin="round"/>
</g>
<rect x="57.3" y="224.8" width="195.7" height="157.5" fill="none" stroke="#161616" stroke-width="1.5"/>
<text x="51.7" y="384.3" font-size="6.6" text-anchor="end" >0.0</text>
<text x="51.7" y="358.2" font-size="6.6" text-anchor="end" >2.0&#215;10<tspan font-size="3.6" dy="-2">3</tspan></text>
<text x="51.7" y="332.1" font-size="6.6" text-anchor="end" >4.0&#215;10<tspan font-size="3.6" dy="-2">3</tspan></text>
<text x="51.7" y="306" font-size="6.6" text-anchor="end" >6.0&#215;10<tspan font-size="3.6" dy="-2">3</tspan></text>
<text x="51.7" y="279.9" font-size="6.6" text-anchor="end" >8.0&#215;10<tspan font-size="3.6" dy="-2">3</tspan></text>
<text x="51.7" y="253.8" font-size="6.6" text-anchor="end" >1.0&#215;10<tspan font-size="3.6" dy="-2">4</tspan></text>
<text x="51.7" y="227.7" font-size="6.6" text-anchor="end" >1.2&#215;10<tspan font-size="3.6" dy="-2">4</tspan></text>
<text x="75.6" y="392.6" font-size="6.6" text-anchor="middle" >350</text>
<text x="120" y="392.6" font-size="6.6" text-anchor="middle" >400</text>
<text x="164.4" y="392.6" font-size="6.6" text-anchor="middle" >450</text>
<text x="208.9" y="392.6" font-size="6.6" text-anchor="middle" >500</text>
<text x="253.3" y="392.6" font-size="6.6" text-anchor="middle" >550</text>
<path d="M54.3 382H57.3M55.7 368.9H57.3M54.3 355.9H57.3M55.7 342.9H57.3M54.3 329.8H57.3M55.7 316.8H57.3M54.3 303.7H57.3M55.7 290.6H57.3M54.3 277.6H57.3M55.7 264.6H57.3M54.3 251.5H57.3M55.7 238.4H57.3M54.3 225.4H57.3M75.3 382.3V385.3M97.5 382.3V383.9M119.7 382.3V385.3M141.9 382.3V383.9M164.1 382.3V385.3M186.4 382.3V383.9M208.6 382.3V385.3M230.8 382.3V383.9M253 382.3V385.3" stroke="#161616" stroke-width="1.1" fill="none"/>
<text x="155.4" y="405.2" font-size="8.3" text-anchor="middle" >Wavelength (nm)</text>
<text transform="translate(21.6 298.5) rotate(-90)" font-size="8.4" text-anchor="middle" font-family="Liberation Serif, serif" font-weight="bold">Intensity (a.u.)</text>
<text x="58.4" y="233.1" font-size="8.5" text-anchor="start" >BTO/CTO</text>
<path d="M203.9 231H222.9" stroke="#a8a8a8" stroke-width="1.2"/>
<text x="224.6" y="233.7" font-size="8.2" text-anchor="start" >dark</text>
<path d="M203.9 241.3H222.9" stroke="#3cc0e4" stroke-width="1.2"/>
<text x="224.6" y="244" font-size="8.2" text-anchor="start" >10 mins</text>
<path d="M203.9 251.6H222.9" stroke="#14a294" stroke-width="1.2"/>
<text x="224.6" y="254.3" font-size="8.2" text-anchor="start" >20 mins</text>
<path d="M203.9 261.9H222.9" stroke="#f07a3a" stroke-width="1.2"/>
<text x="224.6" y="264.6" font-size="8.2" text-anchor="start" >30 mins</text>
<path d="M203.9 272.2H222.9" stroke="#1e8a46" stroke-width="1.2"/>
<text x="224.6" y="274.9" font-size="8.2" text-anchor="start" >40 mins</text>
<path d="M203.9 282.5H222.9" stroke="#f6c828" stroke-width="1.2"/>
<text x="224.6" y="285.2" font-size="8.2" text-anchor="start" >50 mins</text>
<path d="M203.9 292.8H222.9" stroke="#1aa2d6" stroke-width="1.2"/>
<text x="224.6" y="295.5" font-size="8.2" text-anchor="start" >60 mins</text>
<path d="M203.9 303.1H222.9" stroke="#60606c" stroke-width="1.2"/>
<text x="224.6" y="305.8" font-size="8.2" text-anchor="start" >blank</text>
<text x="14.8" y="228.7" font-size="17.3" text-anchor="middle" >(c)</text>
<clipPath id="clipD"><rect x="345.4" y="223.6" width="196.2" height="157.4"/></clipPath>
<g clip-path="url(#clipD)">
<path d="M345.4 377.6L346.3 377.4L347.2 379.4L348.1 380.4L349 379L349.9 377.7L350.8 379.5L351.6 378.1L352.5 377L353.4 379.5L354.3 378.1L355.2 377.7L356.1 378.4L357 379.9L357.9 377.7L358.8 378.3L359.7 376.4L360.6 377.2L361.5 374.5L362.3 372.7L363.2 371.5L364.1 368.4L365 367.7L365.9 368L366.8 369.8L367.7 371.3L368.6 373.3L369.5 374.6L370.4 376.3L371.3 374.3L372.2 373.5L373 373L373.9 372.9L374.8 370.3L375.7 371.6L376.6 368.5L377.5 368L378.4 367.4L379.3 367L380.2 364.8L381.1 362.5L382 360.3L382.9 357L383.7 353.3L384.6 354.3L385.5 350.6L386.4 350.9L387.3 346.8L388.2 343.9L389.1 343.4L390 342.4L390.9 341.6L391.8 341.9L392.7 340.4L393.6 337.9L394.4 332.7L395.3 332.1L396.2 331.3L397.1 328.6L398 329.8L398.9 325.5L399.8 325.2L400.7 323.4L401.6 321.1L402.5 322.9L403.4 319.2L404.3 318.3L405.2 317.4L406 316.2L406.9 310.4L407.8 312.4L408.7 312.3L409.6 315.1L410.5 314.3L411.4 308.7L412.3 312L413.2 312.1L414.1 310.4L415 306.9L415.9 310.8L416.7 309L417.6 322.4L418.5 318.9L419.4 319.5L420.3 319.8L421.2 323.2L422.1 323.9L423 321.1L423.9 325L424.8 323.2L425.7 326.7L426.6 330.1L427.4 331.2L428.3 329.5L429.2 333.6L430.1 332.3L431 335.5L431.9 337L432.8 338.5L433.7 335.7L434.6 335.9L435.5 339.6L436.4 339.9L437.3 342.8L438.1 339.8L439 343.2L439.9 340L440.8 344.8L441.7 343.4L442.6 345L443.5 344.9L444.4 345L445.3 347.5L446.2 348.1L447.1 348.5L448 350.4L448.9 349.2L449.7 351.3L450.6 353.3L451.5 351.9L452.4 354.7L453.3 355.4L454.2 354.3L455.1 355.1L456 357L456.9 359L457.8 360.3L458.7 356.8L459.6 360L460.4 359.6L461.3 360L462.2 362.8L463.1 364.2L464 363L464.9 364.1L465.8 363.7L466.7 365L467.6 365L468.5 367.6L469.4 366.2L470.3 366.8L471.1 367.2L472 367.1L472.9 368.5L473.8 369.6L474.7 370L475.6 369.2L476.5 370.1L477.4 370.4L478.3 370.7L479.2 369.5L480.1 369.2L481 372.8L481.8 371.6L482.7 371.8L483.6 372.3L484.5 373.7L485.4 372.8L486.3 373.4L487.2 373.9L488.1 373L489 372.1L489.9 373.5L490.8 373.1L491.7 374.8L492.6 373.7L493.4 374.3L494.3 374.6L495.2 374.7L496.1 373.9L497 376L497.9 375.5L498.8 373.6L499.7 375.8L500.6 376.4L501.5 374.5L502.4 377.1L503.3 377.3L504.1 374.7L505 376.3L505.9 376.2L506.8 375.1L507.7 376.2L508.6 376.8L509.5 376.9L510.4 376.2L511.3 378.7L512.2 377.2L513.1 378.6L514 377.7L514.8 378.8L515.7 376.1L516.6 378.1L517.5 376.8L518.4 377.9L519.3 378.2L520.2 378.2L521.1 379.7L522 377L522.9 376.9L523.8 377.8L524.7 377.9L525.5 378.1L526.4 377.7L527.3 378.3L528.2 378L529.1 379.5L530 378.7L530.9 379.3L531.8 378.3L532.7 378.4L533.6 379.1L534.5 377.3L535.4 379L536.2 379.1L537.1 378.9L538 377.9L538.9 378.7L539.8 378.5L540.7 377.8L541.6 379.9" stroke="#b4b4b4" stroke-width="1.1" fill="none" stroke-linejoin="round"/>
<path d="M345.4 378.4L346.3 379.6L347.2 377.9L348.1 379L349 378.9L349.9 376.6L350.8 376.6L351.6 377.6L352.5 377.9L353.4 379.3L354.3 379L355.2 377L356.1 377L357 376.8L357.9 378.2L358.8 377.1L359.7 376.7L360.6 375.1L361.5 375.8L362.3 372.7L363.2 372L364.1 369.5L365 369L365.9 367.8L366.8 370.3L367.7 372.2L368.6 372.4L369.5 372.4L370.4 371.9L371.3 373.5L372.2 369.4L373 370.3L373.9 368.3L374.8 368L375.7 363.1L376.6 363.6L377.5 361.9L378.4 359.3L379.3 356.8L380.2 353.8L381.1 350.7L382 350.9L382.9 349.4L383.7 345.4L384.6 344.7L385.5 340.5L386.4 338.8L387.3 332.7L388.2 329.9L389.1 326.7L390 321.8L390.9 319.4L391.8 314.1L392.7 310.3L393.6 306.5L394.4 301.5L395.3 295.6L396.2 292.5L397.1 294.6L398 292.7L398.9 292.5L399.8 288L400.7 289.6L401.6 286.7L402.5 281.1L403.4 282.4L404.3 275.9L405.2 276.2L406 272.3L406.9 272.8L407.8 274.1L408.7 272.3L409.6 272L410.5 269.1L411.4 269.2L412.3 268.3L413.2 264.4L414.1 262.9L415 262.6L415.9 266.4L416.7 266.4L417.6 286L418.5 287.7L419.4 289.9L420.3 286.4L421.2 287.5L422.1 290.9L423 292.9L423.9 291.4L424.8 289.2L425.7 290.6L426.6 289.1L427.4 291.7L428.3 293.4L429.2 296.5L430.1 295.9L431 295.5L431.9 297.1L432.8 302.2L433.7 301.8L434.6 303.7L435.5 305.4L436.4 306.9L437.3 306.5L438.1 309.5L439 307.9L439.9 308.1L440.8 314.6L441.7 314.7L442.6 317L443.5 316.8L444.4 319.6L445.3 321.1L446.2 320.9L447.1 324.5L448 326.3L448.9 328.1L449.7 326.4L450.6 331.3L451.5 333.1L452.4 335.2L453.3 335.3L454.2 335.3L455.1 338.9L456 337.7L456.9 341.1L457.8 342.5L458.7 343.2L459.6 342.3L460.4 345.6L461.3 347.9L462.2 348.4L463.1 348.4L464 351.2L464.9 351.8L465.8 353L466.7 351.1L467.6 354.2L468.5 355L469.4 355.6L470.3 357.3L471.1 356L472 358.7L472.9 358.1L473.8 356.9L474.7 358.3L475.6 358.5L476.5 360.8L477.4 360L478.3 361.1L479.2 361.2L480.1 362L481 361.8L481.8 362.8L482.7 365.6L483.6 363.3L484.5 364.1L485.4 366.6L486.3 364.9L487.2 366.5L488.1 366.4L489 366.8L489.9 366.6L490.8 366.9L491.7 368L492.6 369L493.4 368.6L494.3 368.1L495.2 370.3L496.1 370.1L497 370L497.9 371.1L498.8 369L499.7 371.3L500.6 372.8L501.5 370.8L502.4 372.5L503.3 373.3L504.1 372L505 372.6L505.9 373L506.8 373.5L507.7 372.2L508.6 373.8L509.5 374.3L510.4 374L511.3 374.6L512.2 372.6L513.1 374.1L514 375.2L514.8 373.7L515.7 374.1L516.6 373.6L517.5 374.2L518.4 376.2L519.3 374.6L520.2 376.1L521.1 375.5L522 375L522.9 375L523.8 375.9L524.7 377.7L525.5 376.2L526.4 376.3L527.3 375.3L528.2 375L529.1 376L530 376.9L530.9 377.3L531.8 375.3L532.7 376.4L533.6 376.9L534.5 374.9L535.4 376L536.2 376.8L537.1 377.9L538 378.6L538.9 377.7L539.8 376.8L540.7 376.1L541.6 376.5" stroke="#3a9ad8" stroke-width="1.1" fill="none" stroke-linejoin="round"/>
<path d="M345.4 378.3L346.3 378.6L347.2 378.3L348.1 378.5L349 378.5L349.9 377.9L350.8 377L351.6 377.9L352.5 379.7L353.4 379.6L354.3 377.2L355.2 378.9L356.1 378.1L357 378.3L357.9 378.5L358.8 378.4L359.7 376.4L360.6 376.2L361.5 375.8L362.3 373L363.2 370.3L364.1 370.4L365 366.2L365.9 369.3L366.8 369.1L367.7 369.5L368.6 371.6L369.5 371.5L370.4 372.1L371.3 371.7L372.2 368.4L373 366.6L373.9 365.1L374.8 363.5L375.7 361.4L376.6 360L377.5 358.5L378.4 354.6L379.3 353.7L380.2 348.2L381.1 347.8L382 344.6L382.9 341.3L383.7 337.7L384.6 335.2L385.5 329.8L386.4 328.1L387.3 324.1L388.2 321L389.1 315.7L390 314.3L390.9 310.6L391.8 305.7L392.7 298.8L393.6 297.7L394.4 289.5L395.3 284.4L396.2 280L397.1 271.8L398 272.4L398.9 266.1L399.8 265.2L400.7 258.9L401.6 261.2L402.5 257.2L403.4 251.2L404.3 248.3L405.2 251.4L406 254L406.9 247.3L407.8 245.6L408.7 254.4L409.6 247.4L410.5 245.4L411.4 245.4L412.3 250.9L413.2 245.2L414.1 245.4L415 244.5L415.9 241.2L416.7 240.3L417.6 276.1L418.5 271.3L419.4 277.8L420.3 272.6L421.2 278.8L422.1 273.3L423 280.4L423.9 277.2L424.8 278.7L425.7 280.6L426.6 279.6L427.4 285.6L428.3 283.7L429.2 286L430.1 287.2L431 286.5L431.9 287.5L432.8 287.4L433.7 290.7L434.6 293.5L435.5 295L436.4 296.7L437.3 298.4L438.1 299.6L439 299.4L439.9 301.8L440.8 305L441.7 307.3L442.6 307.2L443.5 311L444.4 313.7L445.3 315.8L446.2 317.3L447.1 316.3L448 320.7L448.9 322L449.7 321.1L450.6 325.8L451.5 325.8L452.4 328.3L453.3 328.4L454.2 332L455.1 332.5L456 334L456.9 334.2L457.8 336.2L458.7 336.7L459.6 337.7L460.4 341.1L461.3 343.1L462.2 343L463.1 345L464 346.5L464.9 346.7L465.8 348.1L466.7 349.4L467.6 351L468.5 352L469.4 350.7L470.3 352.1L471.1 353L472 353.4L472.9 356.3L473.8 356.6L474.7 356.5L475.6 357L476.5 358.7L477.4 357.6L478.3 357.5L479.2 358.6L480.1 359.9L481 359.6L481.8 359.7L482.7 361.6L483.6 361.6L484.5 362.1L485.4 362.4L486.3 363.2L487.2 362.4L488.1 363.9L489 363.5L489.9 363.6L490.8 363.9L491.7 364.7L492.6 365.8L493.4 364.4L494.3 366.1L495.2 365.8L496.1 365.3L497 369.6L497.9 367.2L498.8 368.2L499.7 369.7L500.6 368.3L501.5 368.4L502.4 369.5L503.3 369.2L504.1 370.4L505 370.6L505.9 369.6L506.8 371.1L507.7 372.7L508.6 374L509.5 372.7L510.4 374L511.3 373.5L512.2 372.6L513.1 373.7L514 374.2L514.8 374.1L515.7 372.2L516.6 372.8L517.5 374L518.4 375L519.3 374.4L520.2 375.9L521.1 376.3L522 375.2L522.9 375.8L523.8 375.8L524.7 375.6L525.5 375.9L526.4 375.3L527.3 376.7L528.2 376.1L529.1 376L530 375.7L530.9 376.4L531.8 377.6L532.7 378.5L533.6 377.2L534.5 378.4L535.4 377.3L536.2 377.2L537.1 378.2L538 377.1L538.9 377L539.8 378.4L540.7 377.8L541.6 378" stroke="#f2a6b6" stroke-width="1.1" fill="none" stroke-linejoin="round"/>
<path d="M345.4 378.8L346.3 378.4L347.2 378.4L348.1 378.2L349 378L349.9 379.6L350.8 376.4L351.6 377.1L352.5 378.3L353.4 377.2L354.3 379.1L355.2 378.6L356.1 379.8L357 376.8L357.9 379L358.8 377.2L359.7 378.2L360.6 376.5L361.5 374.9L362.3 374.5L363.2 371.1L364.1 370.8L365 365.4L365.9 366.3L366.8 370.1L367.7 370L368.6 372.7L369.5 372L370.4 373.7L371.3 371L372.2 370.6L373 367.4L373.9 364.9L374.8 363.7L375.7 361.6L376.6 360.9L377.5 358.5L378.4 355.5L379.3 354.6L380.2 352.4L381.1 346.9L382 345.1L382.9 341.6L383.7 336.2L384.6 336.3L385.5 330.9L386.4 327.9L387.3 324.6L388.2 323.3L389.1 314.6L390 310.1L390.9 308.9L391.8 305.7L392.7 299.3L393.6 298.3L394.4 291.1L395.3 286.3L396.2 281.8L397.1 276.4L398 272.7L398.9 267L399.8 260.6L400.7 265.8L401.6 260.4L402.5 255.2L403.4 254.8L404.3 253.3L405.2 251.5L406 247L406.9 251L407.8 249.3L408.7 246.6L409.6 250.4L410.5 245.5L411.4 250.1L412.3 246.5L413.2 248.6L414.1 239.7L415 241.8L415.9 239.7L416.7 245.3L417.6 275.7L418.5 277.6L419.4 278.6L420.3 280L421.2 278.9L422.1 278.6L423 278.2L423.9 280.2L424.8 279.9L425.7 280.1L426.6 281.7L427.4 285.9L428.3 283.4L429.2 286.4L430.1 290L431 285.8L431.9 288.4L432.8 293.9L433.7 291.2L434.6 294.9L435.5 295.6L436.4 300.5L437.3 297.7L438.1 301L439 303.3L439.9 305.7L440.8 305.9L441.7 310.1L442.6 309.7L443.5 311.3L444.4 312.2L445.3 317.8L446.2 314.5L447.1 319.8L448 320.7L448.9 324.5L449.7 322.8L450.6 326.6L451.5 329.2L452.4 329.3L453.3 328.9L454.2 331L455.1 332.7L456 336.1L456.9 336.7L457.8 336.5L458.7 337.6L459.6 340.9L460.4 340.6L461.3 344.3L462.2 341.9L463.1 343.4L464 346.5L464.9 347.6L465.8 348.2L466.7 348.8L467.6 351.4L468.5 350.6L469.4 351.6L470.3 352.7L471.1 355L472 354L472.9 352.8L473.8 355.1L474.7 355.2L475.6 356.3L476.5 358.7L477.4 356.4L478.3 359.7L479.2 359.7L480.1 359L481 358.5L481.8 361.2L482.7 360.8L483.6 362L484.5 362L485.4 363.2L486.3 363.2L487.2 363.7L488.1 363.5L489 364L489.9 364.9L490.8 364.9L491.7 365.6L492.6 366.2L493.4 367.8L494.3 366.1L495.2 367.6L496.1 367.2L497 366.2L497.9 368.4L498.8 369.7L499.7 368.9L500.6 370.2L501.5 370.6L502.4 370.2L503.3 371.7L504.1 370.3L505 371.2L505.9 373.3L506.8 372.2L507.7 372.9L508.6 372.3L509.5 372.1L510.4 372L511.3 374.3L512.2 373.2L513.1 373.5L514 373.9L514.8 372.8L515.7 373.2L516.6 373.5L517.5 374.5L518.4 375.4L519.3 374L520.2 375.1L521.1 375.9L522 375.2L522.9 373.8L523.8 374.7L524.7 375.6L525.5 375.7L526.4 374.6L527.3 376.1L528.2 374.7L529.1 377.8L530 375.8L530.9 376.5L531.8 376.4L532.7 377.3L533.6 375.3L534.5 376.6L535.4 376.2L536.2 376.8L537.1 377.3L538 377.6L538.9 377.4L539.8 378.9L540.7 377.5L541.6 378.5" stroke="#b698d6" stroke-width="1.1" fill="none" stroke-linejoin="round"/>
<path d="M345.4 377.5L346.3 379.7L347.2 379.1L348.1 378.8L349 378.2L349.9 378.9L350.8 376.8L351.6 378.3L352.5 378.2L353.4 380.7L354.3 380.4L355.2 379.5L356.1 379.1L357 377.3L357.9 378.6L358.8 378.5L359.7 376.2L360.6 374.7L361.5 375.1L362.3 373.6L363.2 371.9L364.1 368.8L365 367.5L365.9 368.3L366.8 368.7L367.7 371.5L368.6 372.2L369.5 371.6L370.4 374.1L371.3 372.3L372.2 370.3L373 368.5L373.9 367.4L374.8 363.9L375.7 361.9L376.6 359.8L377.5 356.9L378.4 352.8L379.3 350.2L380.2 347.1L381.1 343.3L382 340.9L382.9 336.9L383.7 334.8L384.6 329.7L385.5 325.1L386.4 323.8L387.3 316L388.2 314.4L389.1 311.3L390 308.1L390.9 300.9L391.8 297.1L392.7 291.6L393.6 290.2L394.4 277.3L395.3 273.2L396.2 272.8L397.1 265L398 260.4L398.9 252.8L399.8 252.4L400.7 252.5L401.6 249.5L402.5 239.1L403.4 235.8L404.3 237L405.2 235.3L406 232.7L406.9 232.1L407.8 233.7L408.7 234.8L409.6 239L410.5 236.5L411.4 235.4L412.3 238.4L413.2 232.6L414.1 230.9L415 227.8L415.9 229.7L416.7 227L417.6 264.3L418.5 261.9L419.4 266.4L420.3 265.1L421.2 267.4L422.1 262.1L423 272.4L423.9 267.8L424.8 272.1L425.7 271L426.6 270.7L427.4 271.4L428.3 273.6L429.2 277.3L430.1 275.4L431 279.8L431.9 279L432.8 282.9L433.7 285.4L434.6 284.5L435.5 286.8L436.4 288.8L437.3 293.7L438.1 296.5L439 293.9L439.9 300.6L440.8 300.1L441.7 301.6L442.6 304.6L443.5 305.5L444.4 309.5L445.3 311.3L446.2 312.7L447.1 314.7L448 315.4L448.9 315.8L449.7 319.7L450.6 319.5L451.5 319.4L452.4 325L453.3 327.1L454.2 326.1L455.1 330.9L456 330.1L456.9 330.3L457.8 334.9L458.7 335.9L459.6 336.8L460.4 338L461.3 340L462.2 340.8L463.1 343L464 342.4L464.9 346.8L465.8 347L466.7 347.8L467.6 348.6L468.5 351L469.4 349.9L470.3 351.6L471.1 351.9L472 351.8L472.9 353.3L473.8 354.8L474.7 355.5L475.6 355.4L476.5 356.2L477.4 357.6L478.3 357.8L479.2 358.4L480.1 359.2L481 359.3L481.8 358.6L482.7 361.8L483.6 361.4L484.5 359.6L485.4 362.8L486.3 361.2L487.2 361.9L488.1 362.1L489 362.8L489.9 362.2L490.8 365L491.7 364.7L492.6 364.9L493.4 365.3L494.3 366.1L495.2 368.2L496.1 366.8L497 366.6L497.9 367.4L498.8 369.8L499.7 369.4L500.6 370L501.5 368.8L502.4 370.1L503.3 369L504.1 370.7L505 371.1L505.9 369.4L506.8 371.7L507.7 372.6L508.6 372L509.5 371.1L510.4 372.3L511.3 373.6L512.2 373.6L513.1 373.5L514 373.8L514.8 375.2L515.7 375.6L516.6 374.1L517.5 373.8L518.4 375.2L519.3 376.1L520.2 374.9L521.1 376.6L522 374.2L522.9 376.3L523.8 377L524.7 376.3L525.5 377.1L526.4 376L527.3 375.9L528.2 377.8L529.1 377.1L530 376.3L530.9 375L531.8 376.5L532.7 376.1L533.6 376.7L534.5 375.7L535.4 377.1L536.2 377.7L537.1 376L538 376.7L538.9 377.3L539.8 378.5L540.7 378.3L541.6 378.4" stroke="#b5b552" stroke-width="1.1" fill="none" stroke-linejoin="round"/>
<path d="M345.4 378.2L346.3 376.8L347.2 378.5L348.1 379.6L349 377.8L349.9 379L350.8 377.2L351.6 377.8L352.5 379.6L353.4 379.6L354.3 379.8L355.2 379.8L356.1 378.1L357 377.5L357.9 378.6L358.8 378.8L359.7 377L360.6 375.5L361.5 376.5L362.3 372.4L363.2 372.2L364.1 369.6L365 366.1L365.9 369.3L366.8 368.7L367.7 371.9L368.6 373.8L369.5 372.7L370.4 375L371.3 370.4L372.2 369.7L373 367.9L373.9 367.5L374.8 364.3L375.7 362.8L376.6 361.6L377.5 359.6L378.4 357.9L379.3 355.6L380.2 352.5L381.1 348.5L382 347.5L382.9 342.6L383.7 339.7L384.6 337.5L385.5 331.6L386.4 331.4L387.3 326.2L388.2 323.8L389.1 321.1L390 315.3L390.9 313.1L391.8 308.2L392.7 303.8L393.6 298.3L394.4 292.9L395.3 292L396.2 291.2L397.1 280.2L398 276L398.9 273.4L399.8 266L400.7 266.8L401.6 263.7L402.5 261.5L403.4 264.5L404.3 258L405.2 259.5L406 259.2L406.9 256.7L407.8 256.3L408.7 252.1L409.6 255.7L410.5 251.9L411.4 250.6L412.3 252L413.2 250.9L414.1 253.2L415 252.5L415.9 250.3L416.7 252.1L417.6 276.7L418.5 276.6L419.4 281.4L420.3 279.2L421.2 282.4L422.1 277.7L423 278.1L423.9 283.8L424.8 282.3L425.7 286.4L426.6 281.7L427.4 287L428.3 286.9L429.2 288L430.1 292.5L431 288.7L431.9 293.2L432.8 293.3L433.7 293.9L434.6 298.6L435.5 295.7L436.4 295.5L437.3 300.4L438.1 299.9L439 304.3L439.9 302.9L440.8 305.8L441.7 305.6L442.6 313.4L443.5 311.8L444.4 315.9L445.3 316.2L446.2 316.1L447.1 320L448 321.1L448.9 323.6L449.7 322L450.6 324.4L451.5 324.3L452.4 329L453.3 332.3L454.2 330.2L455.1 333.8L456 336.3L456.9 336.6L457.8 336.2L458.7 337.7L459.6 339.5L460.4 342.4L461.3 342.4L462.2 342L463.1 344.6L464 347.3L464.9 346.3L465.8 349.7L466.7 348.7L467.6 350.8L468.5 352.5L469.4 351.6L470.3 351.8L471.1 353.5L472 353.7L472.9 354.1L473.8 355.2L474.7 355.6L475.6 358.3L476.5 356.3L477.4 357.6L478.3 359.6L479.2 358.8L480.1 360L481 359.7L481.8 360.9L482.7 360L483.6 359.2L484.5 360.7L485.4 362.1L486.3 362.7L487.2 363.9L488.1 363.5L489 365.5L489.9 364.1L490.8 364.2L491.7 365.4L492.6 365.5L493.4 366.5L494.3 367.5L495.2 367.9L496.1 367.7L497 367.6L497.9 369.5L498.8 367.9L499.7 367.3L500.6 368.9L501.5 369.5L502.4 370.1L503.3 371.2L504.1 371.6L505 370.6L505.9 371.1L506.8 373.1L507.7 372.7L508.6 372.3L509.5 372.4L510.4 371.3L511.3 373.9L512.2 373L513.1 372.7L514 372.9L514.8 373.8L515.7 375L516.6 375.7L517.5 376.3L518.4 374.7L519.3 375.8L520.2 373.6L521.1 375.2L522 374.7L522.9 377.1L523.8 375.3L524.7 375.1L525.5 377.2L526.4 376.2L527.3 374.8L528.2 376.4L529.1 376.2L530 378.2L530.9 374.7L531.8 378.6L532.7 376.8L533.6 378.8L534.5 375.3L535.4 377L536.2 376.5L537.1 376.8L538 376.5L538.9 377.6L539.8 377.5L540.7 375.9L541.6 376.6" stroke="#e2aa3a" stroke-width="1.1" fill="none" stroke-linejoin="round"/>
<path d="M345.4 378.5L346.3 377.7L347.2 379.5L348.1 380.1L349 377.3L349.9 378L350.8 379.2L351.6 378.4L352.5 377.7L353.4 378.9L354.3 379.1L355.2 378.8L356.1 379L357 378.1L357.9 378.4L358.8 377.6L359.7 377L360.6 376L361.5 376L362.3 372.8L363.2 371L364.1 369L365 366.7L365.9 368L366.8 368.9L367.7 371.4L368.6 372.9L369.5 373L370.4 372.7L371.3 370.4L372.2 369.4L373 367.4L373.9 367.2L374.8 365.4L375.7 361.9L376.6 357.4L377.5 355.2L378.4 352.7L379.3 352.1L380.2 347.7L381.1 343.7L382 341.2L382.9 338.2L383.7 336.4L384.6 328.5L385.5 326.7L386.4 321.9L387.3 320L388.2 313L389.1 312.9L390 309.4L390.9 303.5L391.8 297.8L392.7 294.9L393.6 291.8L394.4 281.1L395.3 279.9L396.2 270.2L397.1 268.9L398 258.1L398.9 261.1L399.8 257.1L400.7 250L401.6 247.6L402.5 249.6L403.4 240.5L404.3 241.5L405.2 241.8L406 242.9L406.9 238.4L407.8 236.6L408.7 241.3L409.6 238.6L410.5 241.4L411.4 234.7L412.3 230.9L413.2 239.7L414.1 237.3L415 227.8L415.9 234.3L416.7 231L417.6 273.1L418.5 272L419.4 269.7L420.3 270.5L421.2 270.2L422.1 272.2L423 271.4L423.9 273.3L424.8 277.4L425.7 271.5L426.6 275.4L427.4 281.1L428.3 279.3L429.2 283.1L430.1 283.3L431 284.2L431.9 284.6L432.8 284.8L433.7 289.3L434.6 288.9L435.5 288.6L436.4 291.7L437.3 291.5L438.1 296.9L439 297L439.9 300.2L440.8 301L441.7 303L442.6 304.9L443.5 307.1L444.4 309L445.3 309.5L446.2 313.6L447.1 314.4L448 319.1L448.9 320L449.7 319.5L450.6 321.2L451.5 325.5L452.4 326L453.3 326.2L454.2 327.8L455.1 328.6L456 332.4L456.9 329.7L457.8 334.9L458.7 337.5L459.6 336L460.4 337.4L461.3 340.8L462.2 341.6L463.1 342.1L464 342.7L464.9 343.8L465.8 347.2L466.7 347.9L467.6 346.7L468.5 349.8L469.4 349.8L470.3 350.9L471.1 351.5L472 354.2L472.9 353.7L473.8 354.9L474.7 353.7L475.6 355.7L476.5 356.6L477.4 356.6L478.3 356.6L479.2 359.7L480.1 359.3L481 357L481.8 360L482.7 360.2L483.6 359.3L484.5 360.4L485.4 360.1L486.3 361.5L487.2 361.2L488.1 363.8L489 363.4L489.9 363.3L490.8 363.1L491.7 365.4L492.6 364.6L493.4 365.3L494.3 365.5L495.2 365.9L496.1 367.6L497 369.2L497.9 366.5L498.8 367L499.7 368.5L500.6 368.9L501.5 368.2L502.4 370.8L503.3 371.5L504.1 370.3L505 372.2L505.9 370.8L506.8 371.7L507.7 373.3L508.6 370.3L509.5 373.2L510.4 372.3L511.3 372.3L512.2 372.8L513.1 374.1L514 373.4L514.8 373.5L515.7 375L516.6 373.6L517.5 375.4L518.4 376L519.3 372.5L520.2 374.9L521.1 373.6L522 376.4L522.9 374.2L523.8 375.2L524.7 376.4L525.5 376.6L526.4 375.9L527.3 376.5L528.2 375.4L529.1 375.7L530 376L530.9 375.5L531.8 375.6L532.7 377.2L533.6 375.8L534.5 376.1L535.4 376.5L536.2 376.7L537.1 377.1L538 378.6L538.9 377.4L539.8 375.5L540.7 378.2L541.6 376.6" stroke="#da3434" stroke-width="1.1" fill="none" stroke-linejoin="round"/>
<path d="M345.4 378.8L346.3 376.9L347.2 379.7L348.1 379.4L349 377L349.9 377.2L350.8 379.1L351.6 378L352.5 379.2L353.4 378.8L354.3 378.9L355.2 378.8L356.1 378.4L357 378.1L357.9 378.9L358.8 379.1L359.7 377.4L360.6 378.2L361.5 375.2L362.3 372.8L363.2 373.4L364.1 369.3L365 368.5L365.9 369L366.8 369.8L367.7 370.9L368.6 374.3L369.5 376.5L370.4 375.9L371.3 376.7L372.2 373.4L373 373.6L373.9 371.3L374.8 370.2L375.7 369.2L376.6 369.4L377.5 367.1L378.4 367.7L379.3 363.2L380.2 364.4L381.1 362.4L382 361.6L382.9 360.4L383.7 358.8L384.6 357L385.5 356.5L386.4 355.3L387.3 354.7L388.2 352.1L389.1 351.5L390 349.7L390.9 350.8L391.8 349.4L392.7 348.7L393.6 345L394.4 343.6L395.3 340.9L396.2 339.1L397.1 338.4L398 338L398.9 335L399.8 334.6L400.7 335.8L401.6 332L402.5 332.6L403.4 331.4L404.3 327.3L405.2 329.9L406 327L406.9 325L407.8 324.5L408.7 321.7L409.6 321.1L410.5 323.9L411.4 321.7L412.3 318.1L413.2 320.7L414.1 320.7L415 319.7L415.9 318.8L416.7 318.8L417.6 323.2L418.5 320.9L419.4 320.7L420.3 323.4L421.2 322.9L422.1 323.9L423 325.6L423.9 325.2L424.8 325.6L425.7 326.7L426.6 328.5L427.4 328.2L428.3 328.8L429.2 331.7L430.1 330.7L431 332.7L431.9 333.7L432.8 332.2L433.7 334.6L434.6 334.9L435.5 335.6L436.4 336.6L437.3 336.7L438.1 336L439 340.6L439.9 341.1L440.8 341.7L441.7 341.5L442.6 341.1L443.5 341.8L444.4 341.4L445.3 344.7L446.2 346L447.1 346.9L448 349.6L448.9 348.1L449.7 348L450.6 348.6L451.5 350.9L452.4 351.3L453.3 351L454.2 353.4L455.1 354.1L456 356.1L456.9 356.9L457.8 358.2L458.7 357.5L459.6 357.1L460.4 358.2L461.3 357.9L462.2 361.3L463.1 360.6L464 360.4L464.9 361.7L465.8 361.8L466.7 364L467.6 364.2L468.5 364.5L469.4 364.4L470.3 366.2L471.1 366.9L472 366.3L472.9 367.9L473.8 366.9L474.7 367.8L475.6 368.9L476.5 370L477.4 368.5L478.3 369.8L479.2 369.7L480.1 369.4L481 370.1L481.8 370L482.7 369.8L483.6 371.2L484.5 370.6L485.4 371.8L486.3 372L487.2 371.5L488.1 373.1L489 370.8L489.9 372.4L490.8 372L491.7 373.5L492.6 373.7L493.4 373.2L494.3 372.6L495.2 373.6L496.1 373.5L497 375.4L497.9 372.4L498.8 372.7L499.7 374.8L500.6 374.4L501.5 373.4L502.4 377L503.3 375.1L504.1 376.9L505 376.1L505.9 374.3L506.8 377.1L507.7 376.9L508.6 376.4L509.5 376.9L510.4 377.9L511.3 376.7L512.2 377.2L513.1 376.1L514 377.5L514.8 377.9L515.7 376.8L516.6 376.4L517.5 376.8L518.4 378.9L519.3 378.2L520.2 377.4L521.1 376.7L522 378.1L522.9 378.4L523.8 377.6L524.7 376.8L525.5 378.2L526.4 378.9L527.3 377.8L528.2 378.9L529.1 377.1L530 378.3L530.9 378L531.8 379.2L532.7 379.4L533.6 378.6L534.5 378.7L535.4 379.9L536.2 379.2L537.1 378.9L538 377L538.9 379.4L539.8 379.8L540.7 379.6L541.6 379.3" stroke="#2e2e44" stroke-width="1.1" fill="none" stroke-linejoin="round"/>
</g>
<rect x="345.4" y="223.6" width="196.2" height="157.4" fill="none" stroke="#4a4a4a" stroke-width="1.2"/>
<text x="340.8" y="382.9" font-size="6.5" text-anchor="end" >0.0</text>
<text x="340.8" y="352.9" font-size="6.5" text-anchor="end" >5.0&#215;10<tspan font-size="3.6" dy="-2">3</tspan></text>
<text x="340.8" y="322.9" font-size="6.5" text-anchor="end" >1.0&#215;10<tspan font-size="3.6" dy="-2">4</tspan></text>
<text x="340.8" y="292.9" font-size="6.5" text-anchor="end" >1.5&#215;10<tspan font-size="3.6" dy="-2">4</tspan></text>
<text x="340.8" y="262.9" font-size="6.5" text-anchor="end" >2.0&#215;10<tspan font-size="3.6" dy="-2">4</tspan></text>
<text x="340.8" y="232.9" font-size="6.5" text-anchor="end" >2.5&#215;10<tspan font-size="3.6" dy="-2">4</tspan></text>
<text x="363.7" y="391.8" font-size="6.6" text-anchor="middle" >350</text>
<text x="408.3" y="391.8" font-size="6.6" text-anchor="middle" >400</text>
<text x="452.9" y="391.8" font-size="6.6" text-anchor="middle" >450</text>
<text x="497.5" y="391.8" font-size="6.6" text-anchor="middle" >500</text>
<text x="542.1" y="391.8" font-size="6.6" text-anchor="middle" >550</text>
<path d="M342.4 380.7H345.4M343.8 365.7H345.4M342.4 350.7H345.4M343.8 335.7H345.4M342.4 320.7H345.4M343.8 305.7H345.4M342.4 290.7H345.4M343.8 275.7H345.4M342.4 260.7H345.4M343.8 245.7H345.4M342.4 230.7H345.4M363.2 381V384M385.5 381V382.6M407.8 381V384M430.1 381V382.6M452.4 381V384M474.7 381V382.6M497 381V384M519.3 381V382.6M541.6 381V384" stroke="#161616" stroke-width="1.1" fill="none"/>
<text x="444.2" y="404.6" font-size="8.3" text-anchor="middle" >Wavelength (nm)</text>
<text transform="translate(311.1 296.7) rotate(-90)" font-size="8.4" text-anchor="middle" font-family="Liberation Serif, serif" font-weight="bold">Intensity (a.u.)</text>
<text x="348.2" y="233.7" font-size="7.3" text-anchor="start" >Bi-BTO/CTO-50</text>
<path d="M492.4 229.5H509.6" stroke="#b4b4b4" stroke-width="1.2"/>
<text x="511.3" y="231.9" font-size="7.5" text-anchor="start" >dark</text>
<path d="M492.4 238.8H509.6" stroke="#3a9ad8" stroke-width="1.2"/>
<text x="511.3" y="241.2" font-size="7.5" text-anchor="start" >10 mins</text>
<path d="M492.4 248H509.6" stroke="#f2a6b6" stroke-width="1.2"/>
<text x="511.3" y="250.4" font-size="7.5" text-anchor="start" >20 mins</text>
<path d="M492.4 257.3H509.6" stroke="#b698d6" stroke-width="1.2"/>
<text x="511.3" y="259.7" font-size="7.5" text-anchor="start" >30 mins</text>
<path d="M492.4 266.6H509.6" stroke="#b5b552" stroke-width="1.2"/>
<text x="511.3" y="269" font-size="7.5" text-anchor="start" >40 mins</text>
<path d="M492.4 275.9H509.6" stroke="#e2aa3a" stroke-width="1.2"/>
<text x="511.3" y="278.2" font-size="7.5" text-anchor="start" >50 mins</text>
<path d="M492.4 285.1H509.6" stroke="#da3434" stroke-width="1.2"/>
<text x="511.3" y="287.5" font-size="7.5" text-anchor="start" >60 mins</text>
<path d="M492.4 294.4H509.6" stroke="#2e2e44" stroke-width="1.2"/>
<text x="511.3" y="296.8" font-size="7.5" text-anchor="start" >blank</text>
<text x="305.7" y="229.4" font-size="17.3" text-anchor="middle" >(d)</text>
</svg>
</body></html>
